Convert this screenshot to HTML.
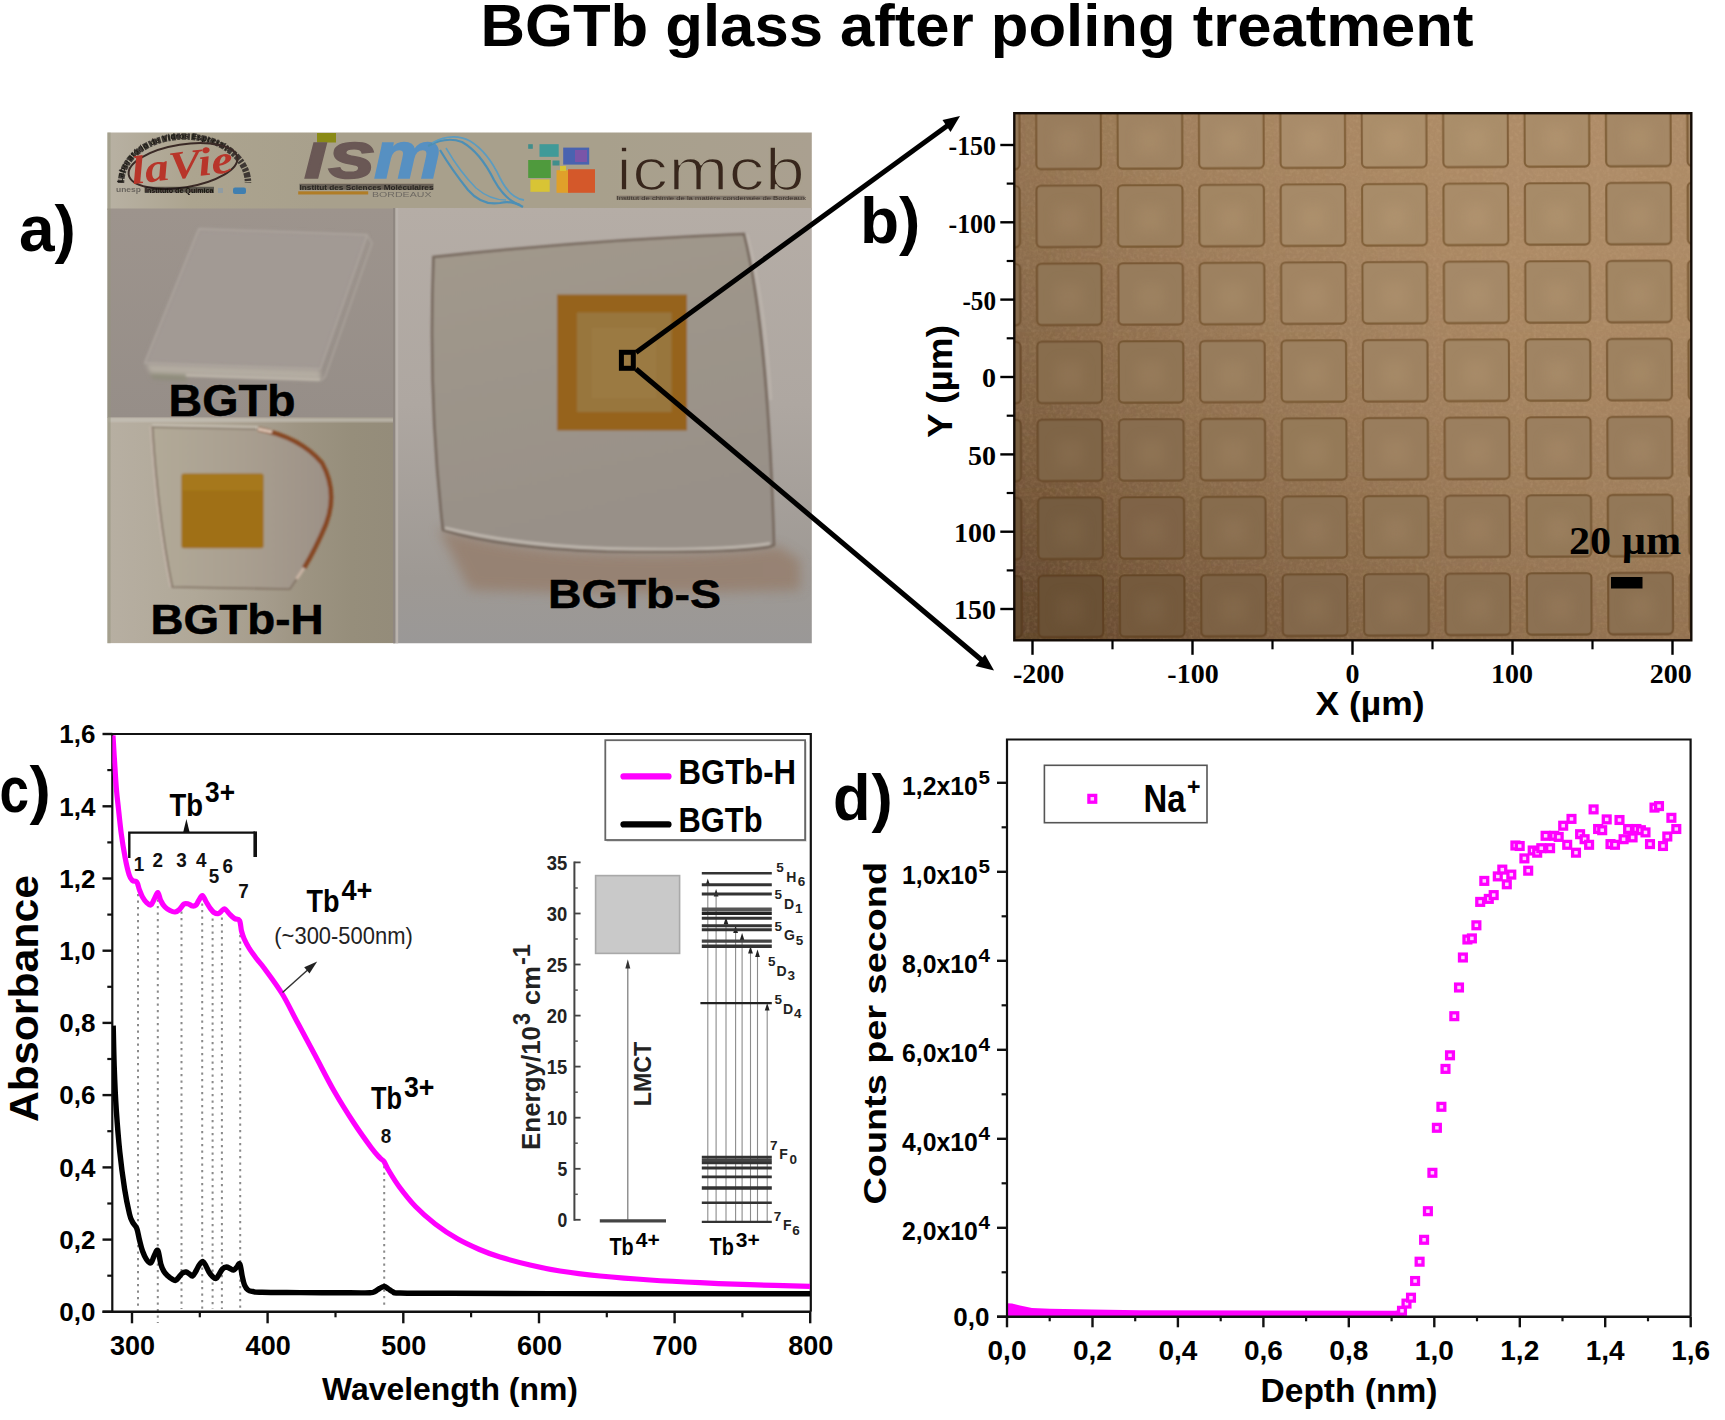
<!DOCTYPE html>
<html lang="en"><head><meta charset="utf-8"><title>BGTb glass after poling treatment</title>
<style>html,body{margin:0;padding:0;background:#fff}svg{display:block}text{white-space:pre}</style></head>
<body><svg width="1725" height="1420" viewBox="0 0 1725 1420">
<defs>
<filter id="b1" x="-5%" y="-5%" width="110%" height="110%"><feGaussianBlur stdDeviation="1"/></filter>
<filter id="b2" x="-5%" y="-5%" width="110%" height="110%"><feGaussianBlur stdDeviation="2"/></filter>
<filter id="b06" x="-5%" y="-5%" width="110%" height="110%"><feGaussianBlur stdDeviation="0.6"/></filter>
<filter id="b04" x="-5%" y="-5%" width="110%" height="110%"><feGaussianBlur stdDeviation="0.4"/></filter>
<filter id="b6" x="-20%" y="-20%" width="140%" height="140%"><feGaussianBlur stdDeviation="6"/></filter>
</defs>
<rect x="0" y="0" width="1725" height="1420" fill="#fff"/>
<text x="480.5" y="46" font-family='"Liberation Sans", "DejaVu Sans", sans-serif' font-size="60" font-weight="bold" fill="#000" text-anchor="start" textLength="993" lengthAdjust="spacingAndGlyphs" >BGTb glass after poling treatment</text>
<text x="19" y="250.6" font-family='"Liberation Sans", "DejaVu Sans", sans-serif' font-size="64" font-weight="bold" fill="#000" text-anchor="start" >a)</text>
<text x="860" y="242.6" font-family='"Liberation Sans", "DejaVu Sans", sans-serif' font-size="64" font-weight="bold" fill="#000" text-anchor="start" >b)</text>
<text x="-0.5" y="811.5" font-family='"Liberation Sans", "DejaVu Sans", sans-serif' font-size="64" font-weight="bold" fill="#000" text-anchor="start" textLength="29.5" lengthAdjust="spacingAndGlyphs" >c</text>
<text x="29.5" y="811.5" font-family='"Liberation Sans", "DejaVu Sans", sans-serif' font-size="64" font-weight="bold" fill="#000" text-anchor="start" >)</text>
<text x="833" y="819.5" font-family='"Liberation Sans", "DejaVu Sans", sans-serif' font-size="64" font-weight="bold" fill="#000" text-anchor="start" textLength="37.5" lengthAdjust="spacingAndGlyphs" >d</text>
<text x="871.5" y="819.5" font-family='"Liberation Sans", "DejaVu Sans", sans-serif' font-size="64" font-weight="bold" fill="#000" text-anchor="start" >)</text>
<g id="panelA">
<clipPath id="clipA"><rect x="107.4" y="132.6" width="704.4" height="510.6"/></clipPath>
<g clip-path="url(#clipA)">
<linearGradient id="gStrip" x1="0" x2="1" y1="0" y2="0"><stop offset="0" stop-color="#b8b1a3"/><stop offset="0.12" stop-color="#aca48f"/><stop offset="0.3" stop-color="#a8a08c"/><stop offset="0.7" stop-color="#a8a08c"/><stop offset="1" stop-color="#aaa090"/></linearGradient>
<rect x="107" y="132" width="705" height="78" fill="url(#gStrip)"/>
<linearGradient id="gLT" x1="0" x2="0" y1="0" y2="1"><stop offset="0" stop-color="#9d948d"/><stop offset="1" stop-color="#968e88"/></linearGradient>
<rect x="107" y="208.5" width="288" height="209.5" fill="url(#gLT)"/>
<linearGradient id="gLB" x1="0" x2="1" y1="0" y2="0"><stop offset="0" stop-color="#b7afa2"/><stop offset="0.3" stop-color="#b0a898"/><stop offset="0.55" stop-color="#a59c8c"/><stop offset="0.68" stop-color="#9d9482"/><stop offset="0.85" stop-color="#968e7b"/><stop offset="1" stop-color="#948c7a"/></linearGradient>
<rect x="107" y="417.5" width="288" height="226" fill="url(#gLB)"/>
<rect x="107" y="418" width="288" height="4" fill="#c8c3b9" opacity="0.7" filter="url(#b1)"/>
<linearGradient id="gR" x1="0" x2="0" y1="0" y2="1"><stop offset="0" stop-color="#b5ada6"/><stop offset="0.45" stop-color="#aea7a1"/><stop offset="0.85" stop-color="#9e9994"/><stop offset="1" stop-color="#9a9897"/></linearGradient>
<rect x="393.5" y="208" width="419" height="436" fill="url(#gR)"/>
<rect x="393" y="208" width="2.4" height="436" fill="#8f8781" filter="url(#b06)"/>
<rect x="395.6" y="208" width="2.6" height="436" fill="#bab3ad" filter="url(#b06)"/>
<rect x="107" y="132" width="3.6" height="512" fill="#96947f" opacity="0.55" filter="url(#b06)"/>
<g filter="url(#b2)">
<polygon points="199,229 367,235 320,369 145,363" fill="#a29a94"/>
<polygon points="146,364 320,370 321,380 151,374" fill="#b3aca1"/>
<polygon points="150,373 186,374.5 187,381 153,379" fill="#8e8c7a"/>
</g>
<g filter="url(#b1)">
<polygon points="199,229 367,235 320,369 145,363" fill="none" stroke="#aea69f" stroke-width="1.5"/>
<polyline points="367,235 372,243 325,377 321,380" fill="none" stroke="#a8a099" stroke-width="1.8"/>
<polyline points="186,375 320,379.5" fill="none" stroke="#bdb6aa" stroke-width="2.4"/>
</g>
<linearGradient id="gGH" gradientUnits="userSpaceOnUse" x1="152" x2="334" y1="0" y2="0"><stop offset="0" stop-color="#b2aa98"/><stop offset="0.5" stop-color="#a99f90"/><stop offset="1" stop-color="#9c9086"/></linearGradient>
<g filter="url(#b1)">
<path d="M152 426 L258 428 Q300 436 322 462 Q338 492 326 524 Q316 548 304 568 L290 589 L172 587 Q160 520 152 426 Z" fill="url(#gGH)"/>
<path d="M150.6 426 Q156.6 520 170.6 587" stroke="#c4b6aa" stroke-width="2" fill="none"/>
<path d="M152.4 426 Q158.4 520 172.4 587 L290 589 L304 568" stroke="#7f6f60" stroke-width="1.6" fill="none"/>
<path d="M152 427.2 L258 429.2" stroke="#8d8172" stroke-width="1.8" fill="none"/>
<path d="M152 425 L258 427" stroke="#cfc8bc" stroke-width="1.6" fill="none"/>
<rect x="181.4" y="473.6" width="82.2" height="74.6" rx="2.5" fill="#a07016"/>
<rect x="182.5" y="474.5" width="80" height="16" fill="#a87a1c" opacity="0.8"/>
<path d="M258 429 Q300 437 322 463 Q338 492 326 524 Q316 548 304 568" stroke="#864624" stroke-width="4.6" fill="none"/>
<path d="M258 429 L272 432" stroke="#dcc6b6" stroke-width="3" fill="none"/>
<path d="M296.5 579 L304 568" stroke="#c9b4a4" stroke-width="3" fill="none"/>
</g>
<linearGradient id="gGl" x1="0" x2="0.25" y1="0" y2="1"><stop offset="0" stop-color="#a2998c"/><stop offset="0.45" stop-color="#9d958a"/><stop offset="1" stop-color="#989088"/></linearGradient>
<path d="M438 528 Q520 552 607 553 Q720 556 778 546 L800 560 L800 590 Q620 596 470 590 Z" fill="#96806f" filter="url(#b6)" opacity="0.9"/>
<g filter="url(#b1)">
<path d="M433.5 257 Q590 240 744 234 Q768 330 774 545 Q760 553 607 551.5 Q500 548 443 530 Q428 400 433.5 257 Z" fill="url(#gGl)" stroke="#76685d" stroke-width="2.6"/>
<path d="M744 234 Q762 300 768 400" stroke="#c3bbb2" stroke-width="2" fill="none" opacity="0.7" transform="translate(3 0)"/>
<path d="M445 528 Q520 546 607 548.5 Q720 551 770 543.5" stroke="#c4bdb4" stroke-width="3" fill="none" opacity="0.8"/>
<rect x="557" y="294.5" width="130" height="136" fill="#96641f"/>
<rect x="577" y="312.5" width="94.5" height="99.5" fill="#98763e"/>
<rect x="592" y="328" width="64" height="70" fill="#9c7c46" opacity="0.7"/>
</g>
</g>
<text x="168.5" y="415.5" font-family='"Liberation Sans", "DejaVu Sans", sans-serif' font-size="44" font-weight="bold" fill="#000" text-anchor="start" textLength="127" lengthAdjust="spacingAndGlyphs" stroke="#000" stroke-width="0.5">BGTb</text>
<text x="150.5" y="634.3" font-family='"Liberation Sans", "DejaVu Sans", sans-serif' font-size="43" font-weight="bold" fill="#000" text-anchor="start" textLength="173" lengthAdjust="spacingAndGlyphs" stroke="#000" stroke-width="0.5">BGTb-H</text>
<text x="548" y="607.5" font-family='"Liberation Sans", "DejaVu Sans", sans-serif' font-size="41" font-weight="bold" fill="#000" text-anchor="start" textLength="173" lengthAdjust="spacingAndGlyphs" stroke="#000" stroke-width="0.5">BGTb-S</text>
<rect x="621.4" y="352.3" width="11.9" height="16" fill="none" stroke="#000" stroke-width="5"/>
<path d="M636 352.5 L949 124.5" stroke="#000" stroke-width="5" fill="none"/>
<polygon points="960,116 942.5,120 950.5,132" fill="#000"/>
<path d="M636 369 L984 662" stroke="#000" stroke-width="5" fill="none"/>
<polygon points="994,670.5 975.5,666 985,654.5" fill="#000"/>
</g>
<g id="logos" clip-path="url(#clipA)">
<g filter="url(#b06)">
<path id="arcLav" d="M122.5 184 A62 45.5 0 0 1 246.5 184" fill="none"/>
<path d="M121 183 A63.5 46.5 0 0 1 248 183" fill="none" stroke="#26221f" stroke-width="6.5" stroke-dasharray="3.2 1.3 5 1.2 2.4 1.4 4.2 1.1" opacity="0.82"/>
<text font-family='"Liberation Sans", "DejaVu Sans", sans-serif' font-size="8.2" font-weight="bold" fill="#1f1b18" letter-spacing="0.15"><textPath href="#arcLav" startOffset="1">Laboratório de Vidros Especiais</textPath></text>
<ellipse cx="183" cy="166" rx="55" ry="21.5" fill="none" stroke="#3a2a26" stroke-width="2" transform="rotate(-9 183 166)"/>
<text x="131" y="178" font-family='"Liberation Serif", "DejaVu Serif", serif' font-size="40" font-style="italic" font-weight="bold" fill="#b8352a" textLength="102" lengthAdjust="spacingAndGlyphs" transform="rotate(-7 183 166)">laVie</text>
<text x="116" y="192.3" font-family='"Liberation Sans", "DejaVu Sans", sans-serif' font-size="6.5" font-weight="bold" fill="#6b665f" text-anchor="start" textLength="25" lengthAdjust="spacingAndGlyphs" >unesp</text>
<text x="145" y="192.5" font-family='"Liberation Sans", "DejaVu Sans", sans-serif' font-size="7.4" font-weight="bold" fill="#15120f" text-anchor="start" textLength="68.5" lengthAdjust="spacingAndGlyphs" >Instituto de Química</text>
<rect x="144.5" y="186.8" width="69.5" height="5.8" fill="#1a1613" opacity="0.55"/>
<rect x="218" y="188" width="5" height="5" fill="#8a9aa8" opacity="0.8"/><rect x="233" y="187.5" width="13" height="6.5" rx="2" fill="#3f7fb0"/>
<rect x="317" y="133" width="19" height="9.5" fill="#8a8a18"/>
<text x="304" y="178.4" font-family='"Liberation Sans", "DejaVu Sans", sans-serif' font-size="67" font-style="italic" font-weight="bold" fill="#6a5855" stroke="#6a5855" stroke-width="1.6" textLength="72" lengthAdjust="spacingAndGlyphs">ıs</text>
<text x="374" y="178.4" font-family='"Liberation Sans", "DejaVu Sans", sans-serif' font-size="67" font-style="italic" font-weight="bold" fill="#5790c2" stroke="#5790c2" stroke-width="1.6" textLength="67" lengthAdjust="spacingAndGlyphs">m</text>
<text x="299.5" y="189.6" font-family='"Liberation Sans", "DejaVu Sans", sans-serif' font-size="7.6" font-weight="bold" fill="#2a2522" text-anchor="start" textLength="134" lengthAdjust="spacingAndGlyphs" >Institut des Sciences Moléculaires</text>
<rect x="299.5" y="183.8" width="134" height="6" fill="#2a2522" opacity="0.5"/>
<rect x="298.2" y="191.3" width="70" height="3.2" fill="#b07d28"/>
<text x="372" y="197" font-family='"Liberation Sans", "DejaVu Sans", sans-serif' font-size="6.8" font-weight="normal" fill="#6e6962" text-anchor="start" textLength="59.5" lengthAdjust="spacingAndGlyphs" >BORDEAUX</text>
<path d="M428 146 Q446 136 462 142 Q480 152 494 180 Q505 200 520 205" fill="none" stroke="#4d8fb5" stroke-width="2.2"/>
<path d="M432 143 Q452 132 470 141 Q488 152 500 178 Q510 198 524 200" fill="none" stroke="#5c9cc0" stroke-width="1.8"/>
<path d="M440 150 Q452 170 468 190 Q482 206 500 203 Q512 200 523 207" fill="none" stroke="#4d8fb5" stroke-width="2.2"/>
<path d="M446 148 Q460 172 476 188 Q490 200 506 200" fill="none" stroke="#5c9cc0" stroke-width="1.6"/>
<rect x="528.2" y="144.2" width="4.6" height="4.6" fill="#3f8e8c"/>
<rect x="539.5" y="144.2" width="19.2" height="12.6" fill="#3f9a98"/>
<rect x="563.2" y="147.6" width="26" height="17" fill="#4a63b0"/>
<rect x="575" y="150" width="12" height="12" fill="#7a55a8"/>
<rect x="528.2" y="160" width="22.6" height="18" fill="#4f9a3c"/>
<rect x="552.5" y="160.5" width="7" height="5" fill="#3f8e8c"/>
<rect x="530.4" y="179.4" width="19.3" height="12.4" fill="#d8c436"/>
<rect x="556.5" y="170.2" width="14" height="22.6" fill="#e0a02c"/>
<rect x="568" y="169.2" width="27" height="23.6" fill="#d4582a"/>
<rect x="560" y="166" width="6" height="5" fill="#d8c436"/>
<text x="616" y="189.6" font-family='"Liberation Sans", "DejaVu Sans", sans-serif' font-size="60" font-weight="normal" fill="#37281f" text-anchor="start" textLength="189" lengthAdjust="spacingAndGlyphs" stroke="#a9a08d" stroke-width="1.7">icmcb</text>
<text x="616.5" y="200.0" font-family='"Liberation Sans", "DejaVu Sans", sans-serif' font-size="5.6" font-weight="normal" fill="#3d332e" text-anchor="start" textLength="189.5" lengthAdjust="spacingAndGlyphs" >Institut de chimie de la matière condensée de Bordeaux</text>
<rect x="616.5" y="195.8" width="188" height="4" fill="#3d332e" opacity="0.38"/>
</g></g>
<g id="panelB">
<clipPath id="clipB"><rect x="1014.3" y="113.2" width="677.0" height="527.0999999999999"/></clipPath>
<filter id="noiseB" x="0" y="0" width="100%" height="100%"><feTurbulence type="fractalNoise" baseFrequency="0.3" numOctaves="2" seed="7" result="n"/><feColorMatrix in="n" type="matrix" values="0 0 0 0 0.82  0 0 0 0 0.58  0 0 0 0 0.36  0.9 0.9 0 0 -0.74"/></filter>
<filter id="b16" x="-10%" y="-10%" width="120%" height="120%"><feGaussianBlur stdDeviation="16"/></filter>
<g clip-path="url(#clipB)">
<rect x="1014.3" y="113.2" width="677.0" height="527.0999999999999" fill="#9c7c59"/>
<g filter="url(#b16)">
<rect x="962" y="61" width="53" height="53" fill="#937352"/>
<rect x="1014" y="61" width="53" height="53" fill="#967654"/>
<rect x="1066" y="61" width="53" height="53" fill="#9b7b58"/>
<rect x="1118" y="61" width="53" height="53" fill="#a07f5c"/>
<rect x="1170" y="61" width="53" height="53" fill="#a3825e"/>
<rect x="1222" y="61" width="53" height="53" fill="#a68561"/>
<rect x="1274" y="61" width="53" height="53" fill="#a88662"/>
<rect x="1326" y="61" width="53" height="53" fill="#a98863"/>
<rect x="1378" y="61" width="53" height="53" fill="#ac8a65"/>
<rect x="1430" y="61" width="53" height="53" fill="#ae8c67"/>
<rect x="1482" y="61" width="53" height="53" fill="#af8d68"/>
<rect x="1534" y="61" width="53" height="53" fill="#af8d68"/>
<rect x="1586" y="61" width="53" height="53" fill="#af8c67"/>
<rect x="1638" y="61" width="53" height="53" fill="#ad8b67"/>
<rect x="1690" y="61" width="53" height="53" fill="#ad8b66"/>
<rect x="1742" y="61" width="53" height="53" fill="#ad8b66"/>
<rect x="962" y="113" width="53" height="53" fill="#927251"/>
<rect x="1014" y="113" width="53" height="53" fill="#957553"/>
<rect x="1066" y="113" width="53" height="53" fill="#9a7a57"/>
<rect x="1118" y="113" width="53" height="53" fill="#9f7e5b"/>
<rect x="1170" y="113" width="53" height="53" fill="#a2815e"/>
<rect x="1222" y="113" width="53" height="53" fill="#a58460"/>
<rect x="1274" y="113" width="53" height="53" fill="#a78662"/>
<rect x="1326" y="113" width="53" height="53" fill="#a98763"/>
<rect x="1378" y="113" width="53" height="53" fill="#ab8a65"/>
<rect x="1430" y="113" width="53" height="53" fill="#ad8b66"/>
<rect x="1482" y="113" width="53" height="53" fill="#ae8c67"/>
<rect x="1534" y="113" width="53" height="53" fill="#af8d68"/>
<rect x="1586" y="113" width="53" height="53" fill="#af8c67"/>
<rect x="1638" y="113" width="53" height="53" fill="#ad8b67"/>
<rect x="1690" y="113" width="53" height="53" fill="#ad8b66"/>
<rect x="1742" y="113" width="53" height="53" fill="#ad8b66"/>
<rect x="962" y="165" width="53" height="53" fill="#8f6f4f"/>
<rect x="1014" y="165" width="53" height="53" fill="#927251"/>
<rect x="1066" y="165" width="53" height="53" fill="#977755"/>
<rect x="1118" y="165" width="53" height="53" fill="#9c7b59"/>
<rect x="1170" y="165" width="53" height="53" fill="#a07f5c"/>
<rect x="1222" y="165" width="53" height="53" fill="#a3825e"/>
<rect x="1274" y="165" width="53" height="53" fill="#a58460"/>
<rect x="1326" y="165" width="53" height="53" fill="#a78662"/>
<rect x="1378" y="165" width="53" height="53" fill="#aa8864"/>
<rect x="1430" y="165" width="53" height="53" fill="#ac8a65"/>
<rect x="1482" y="165" width="53" height="53" fill="#ad8b67"/>
<rect x="1534" y="165" width="53" height="53" fill="#ae8c67"/>
<rect x="1586" y="165" width="53" height="53" fill="#ae8c67"/>
<rect x="1638" y="165" width="53" height="53" fill="#ad8b66"/>
<rect x="1690" y="165" width="53" height="53" fill="#ac8a66"/>
<rect x="1742" y="165" width="53" height="53" fill="#ac8a66"/>
<rect x="962" y="217" width="53" height="53" fill="#8b6c4c"/>
<rect x="1014" y="217" width="53" height="53" fill="#8e6f4e"/>
<rect x="1066" y="217" width="53" height="53" fill="#947453"/>
<rect x="1118" y="217" width="53" height="53" fill="#997856"/>
<rect x="1170" y="217" width="53" height="53" fill="#9d7c5a"/>
<rect x="1222" y="217" width="53" height="53" fill="#a07f5c"/>
<rect x="1274" y="217" width="53" height="53" fill="#a3825e"/>
<rect x="1326" y="217" width="53" height="53" fill="#a58460"/>
<rect x="1378" y="217" width="53" height="53" fill="#a88662"/>
<rect x="1430" y="217" width="53" height="53" fill="#aa8864"/>
<rect x="1482" y="217" width="53" height="53" fill="#ac8a65"/>
<rect x="1534" y="217" width="53" height="53" fill="#ad8b66"/>
<rect x="1586" y="217" width="53" height="53" fill="#ad8b66"/>
<rect x="1638" y="217" width="53" height="53" fill="#ac8a66"/>
<rect x="1690" y="217" width="53" height="53" fill="#ac8a65"/>
<rect x="1742" y="217" width="53" height="53" fill="#ac8a65"/>
<rect x="962" y="269" width="53" height="53" fill="#876848"/>
<rect x="1014" y="269" width="53" height="53" fill="#8a6b4b"/>
<rect x="1066" y="269" width="53" height="53" fill="#90704f"/>
<rect x="1118" y="269" width="53" height="53" fill="#957553"/>
<rect x="1170" y="269" width="53" height="53" fill="#997957"/>
<rect x="1222" y="269" width="53" height="53" fill="#9d7c5a"/>
<rect x="1274" y="269" width="53" height="53" fill="#a07f5c"/>
<rect x="1326" y="269" width="53" height="53" fill="#a2815e"/>
<rect x="1378" y="269" width="53" height="53" fill="#a58460"/>
<rect x="1430" y="269" width="53" height="53" fill="#a88662"/>
<rect x="1482" y="269" width="53" height="53" fill="#aa8864"/>
<rect x="1534" y="269" width="53" height="53" fill="#ab8964"/>
<rect x="1586" y="269" width="53" height="53" fill="#ab8965"/>
<rect x="1638" y="269" width="53" height="53" fill="#ab8964"/>
<rect x="1690" y="269" width="53" height="53" fill="#aa8864"/>
<rect x="1742" y="269" width="53" height="53" fill="#aa8864"/>
<rect x="962" y="321" width="53" height="53" fill="#826445"/>
<rect x="1014" y="321" width="53" height="53" fill="#866747"/>
<rect x="1066" y="321" width="53" height="53" fill="#8c6c4c"/>
<rect x="1118" y="321" width="53" height="53" fill="#917150"/>
<rect x="1170" y="321" width="53" height="53" fill="#957554"/>
<rect x="1222" y="321" width="53" height="53" fill="#997957"/>
<rect x="1274" y="321" width="53" height="53" fill="#9c7c59"/>
<rect x="1326" y="321" width="53" height="53" fill="#9f7e5b"/>
<rect x="1378" y="321" width="53" height="53" fill="#a2815e"/>
<rect x="1430" y="321" width="53" height="53" fill="#a58360"/>
<rect x="1482" y="321" width="53" height="53" fill="#a78561"/>
<rect x="1534" y="321" width="53" height="53" fill="#a88762"/>
<rect x="1586" y="321" width="53" height="53" fill="#a98763"/>
<rect x="1638" y="321" width="53" height="53" fill="#a88763"/>
<rect x="1690" y="321" width="53" height="53" fill="#a88662"/>
<rect x="1742" y="321" width="53" height="53" fill="#a88662"/>
<rect x="962" y="373" width="53" height="53" fill="#7d5f40"/>
<rect x="1014" y="373" width="53" height="53" fill="#806243"/>
<rect x="1066" y="373" width="53" height="53" fill="#866748"/>
<rect x="1118" y="373" width="53" height="53" fill="#8c6d4c"/>
<rect x="1170" y="373" width="53" height="53" fill="#917150"/>
<rect x="1222" y="373" width="53" height="53" fill="#957553"/>
<rect x="1274" y="373" width="53" height="53" fill="#987856"/>
<rect x="1326" y="373" width="53" height="53" fill="#9b7a58"/>
<rect x="1378" y="373" width="53" height="53" fill="#9e7d5b"/>
<rect x="1430" y="373" width="53" height="53" fill="#a1805d"/>
<rect x="1482" y="373" width="53" height="53" fill="#a3825f"/>
<rect x="1534" y="373" width="53" height="53" fill="#a58460"/>
<rect x="1586" y="373" width="53" height="53" fill="#a68460"/>
<rect x="1638" y="373" width="53" height="53" fill="#a68460"/>
<rect x="1690" y="373" width="53" height="53" fill="#a58460"/>
<rect x="1742" y="373" width="53" height="53" fill="#a58460"/>
<rect x="962" y="425" width="53" height="53" fill="#77593c"/>
<rect x="1014" y="425" width="53" height="53" fill="#7a5c3e"/>
<rect x="1066" y="425" width="53" height="53" fill="#816243"/>
<rect x="1118" y="425" width="53" height="53" fill="#866748"/>
<rect x="1170" y="425" width="53" height="53" fill="#8b6c4c"/>
<rect x="1222" y="425" width="53" height="53" fill="#90704f"/>
<rect x="1274" y="425" width="53" height="53" fill="#937352"/>
<rect x="1326" y="425" width="53" height="53" fill="#967654"/>
<rect x="1378" y="425" width="53" height="53" fill="#9a7957"/>
<rect x="1430" y="425" width="53" height="53" fill="#9d7c5a"/>
<rect x="1482" y="425" width="53" height="53" fill="#9f7f5c"/>
<rect x="1534" y="425" width="53" height="53" fill="#a1805d"/>
<rect x="1586" y="425" width="53" height="53" fill="#a2815e"/>
<rect x="1638" y="425" width="53" height="53" fill="#a2815e"/>
<rect x="1690" y="425" width="53" height="53" fill="#a2815e"/>
<rect x="1742" y="425" width="53" height="53" fill="#a2815e"/>
<rect x="962" y="477" width="53" height="53" fill="#705336"/>
<rect x="1014" y="477" width="53" height="53" fill="#745639"/>
<rect x="1066" y="477" width="53" height="53" fill="#7a5c3e"/>
<rect x="1118" y="477" width="53" height="53" fill="#806243"/>
<rect x="1170" y="477" width="53" height="53" fill="#856747"/>
<rect x="1222" y="477" width="53" height="53" fill="#8a6b4b"/>
<rect x="1274" y="477" width="53" height="53" fill="#8e6e4e"/>
<rect x="1326" y="477" width="53" height="53" fill="#917150"/>
<rect x="1378" y="477" width="53" height="53" fill="#957553"/>
<rect x="1430" y="477" width="53" height="53" fill="#987856"/>
<rect x="1482" y="477" width="53" height="53" fill="#9b7a58"/>
<rect x="1534" y="477" width="53" height="53" fill="#9d7c59"/>
<rect x="1586" y="477" width="53" height="53" fill="#9e7d5a"/>
<rect x="1638" y="477" width="53" height="53" fill="#9e7e5b"/>
<rect x="1690" y="477" width="53" height="53" fill="#9e7e5b"/>
<rect x="1742" y="477" width="53" height="53" fill="#9e7e5b"/>
<rect x="962" y="529" width="53" height="53" fill="#694c31"/>
<rect x="1014" y="529" width="53" height="53" fill="#6c5034"/>
<rect x="1066" y="529" width="53" height="53" fill="#735639"/>
<rect x="1118" y="529" width="53" height="53" fill="#7a5c3e"/>
<rect x="1170" y="529" width="53" height="53" fill="#7f6142"/>
<rect x="1222" y="529" width="53" height="53" fill="#846546"/>
<rect x="1274" y="529" width="53" height="53" fill="#886949"/>
<rect x="1326" y="529" width="53" height="53" fill="#8b6c4b"/>
<rect x="1378" y="529" width="53" height="53" fill="#8f704f"/>
<rect x="1430" y="529" width="53" height="53" fill="#937352"/>
<rect x="1482" y="529" width="53" height="53" fill="#967654"/>
<rect x="1534" y="529" width="53" height="53" fill="#987756"/>
<rect x="1586" y="529" width="53" height="53" fill="#997957"/>
<rect x="1638" y="529" width="53" height="53" fill="#9a7957"/>
<rect x="1690" y="529" width="53" height="53" fill="#9a7957"/>
<rect x="1742" y="529" width="53" height="53" fill="#9a7957"/>
<rect x="962" y="581" width="53" height="53" fill="#61452a"/>
<rect x="1014" y="581" width="53" height="53" fill="#65492d"/>
<rect x="1066" y="581" width="53" height="53" fill="#6c4f33"/>
<rect x="1118" y="581" width="53" height="53" fill="#725538"/>
<rect x="1170" y="581" width="53" height="53" fill="#785a3c"/>
<rect x="1222" y="581" width="53" height="53" fill="#7d5f40"/>
<rect x="1274" y="581" width="53" height="53" fill="#816244"/>
<rect x="1326" y="581" width="53" height="53" fill="#846646"/>
<rect x="1378" y="581" width="53" height="53" fill="#896a4a"/>
<rect x="1430" y="581" width="53" height="53" fill="#8d6d4d"/>
<rect x="1482" y="581" width="53" height="53" fill="#90704f"/>
<rect x="1534" y="581" width="53" height="53" fill="#927251"/>
<rect x="1586" y="581" width="53" height="53" fill="#947452"/>
<rect x="1638" y="581" width="53" height="53" fill="#957553"/>
<rect x="1690" y="581" width="53" height="53" fill="#957553"/>
<rect x="1742" y="581" width="53" height="53" fill="#957553"/>
<rect x="962" y="633" width="53" height="53" fill="#5c4026"/>
<rect x="1014" y="633" width="53" height="53" fill="#5f4429"/>
<rect x="1066" y="633" width="53" height="53" fill="#674a2f"/>
<rect x="1118" y="633" width="53" height="53" fill="#6d5034"/>
<rect x="1170" y="633" width="53" height="53" fill="#735639"/>
<rect x="1222" y="633" width="53" height="53" fill="#785a3d"/>
<rect x="1274" y="633" width="53" height="53" fill="#7c5e40"/>
<rect x="1326" y="633" width="53" height="53" fill="#806243"/>
<rect x="1378" y="633" width="53" height="53" fill="#856647"/>
<rect x="1430" y="633" width="53" height="53" fill="#896a4a"/>
<rect x="1482" y="633" width="53" height="53" fill="#8c6d4c"/>
<rect x="1534" y="633" width="53" height="53" fill="#8e6f4e"/>
<rect x="1586" y="633" width="53" height="53" fill="#907050"/>
<rect x="1638" y="633" width="53" height="53" fill="#917150"/>
<rect x="1690" y="633" width="53" height="53" fill="#917251"/>
<rect x="1742" y="633" width="53" height="53" fill="#917251"/>
<rect x="962" y="685" width="53" height="53" fill="#5c4026"/>
<rect x="1014" y="685" width="53" height="53" fill="#5f4429"/>
<rect x="1066" y="685" width="53" height="53" fill="#674a2f"/>
<rect x="1118" y="685" width="53" height="53" fill="#6d5034"/>
<rect x="1170" y="685" width="53" height="53" fill="#735639"/>
<rect x="1222" y="685" width="53" height="53" fill="#785a3d"/>
<rect x="1274" y="685" width="53" height="53" fill="#7c5e40"/>
<rect x="1326" y="685" width="53" height="53" fill="#806243"/>
<rect x="1378" y="685" width="53" height="53" fill="#856647"/>
<rect x="1430" y="685" width="53" height="53" fill="#896a4a"/>
<rect x="1482" y="685" width="53" height="53" fill="#8c6d4c"/>
<rect x="1534" y="685" width="53" height="53" fill="#8e6f4e"/>
<rect x="1586" y="685" width="53" height="53" fill="#907050"/>
<rect x="1638" y="685" width="53" height="53" fill="#917150"/>
<rect x="1690" y="685" width="53" height="53" fill="#917251"/>
<rect x="1742" y="685" width="53" height="53" fill="#917251"/>
</g>
<rect x="1014.3" y="113.2" width="677.0" height="527.0999999999999" filter="url(#noiseB)" opacity="0.2"/>
<g transform="rotate(-0.28 1352 377)" filter="url(#b06)">
<rect x="956.0" y="106.2" width="64.6" height="61.4" rx="4.5" ry="4.5" fill="#937858" stroke="#775733" stroke-width="2.1"/>
<rect x="956.0" y="184.2" width="64.6" height="61.4" rx="4.5" ry="4.5" fill="#8e7354" stroke="#745532" stroke-width="2.1"/>
<rect x="956.0" y="262.2" width="64.6" height="61.4" rx="4.5" ry="4.5" fill="#886d4f" stroke="#715230" stroke-width="2.1"/>
<rect x="956.0" y="340.2" width="64.6" height="61.4" rx="4.5" ry="4.5" fill="#816649" stroke="#6d4e2d" stroke-width="2.1"/>
<rect x="956.0" y="418.2" width="64.6" height="61.4" rx="4.5" ry="4.5" fill="#785e41" stroke="#67492a" stroke-width="2.1"/>
<rect x="956.0" y="496.2" width="64.6" height="61.4" rx="4.5" ry="4.5" fill="#6e5439" stroke="#614325" stroke-width="2.1"/>
<rect x="956.0" y="574.2" width="64.6" height="61.4" rx="4.5" ry="4.5" fill="#62492f" stroke="#593c20" stroke-width="2.1"/>
<rect x="956.0" y="652.2" width="64.6" height="61.4" rx="4.5" ry="4.5" fill="#5d442b" stroke="#55391d" stroke-width="2.1"/>
<rect x="1037.4" y="106.2" width="64.6" height="61.4" rx="4.5" ry="4.5" fill="#997d5d" stroke="#7a5a35" stroke-width="2.1"/>
<rect x="1037.4" y="184.2" width="64.6" height="61.4" rx="4.5" ry="4.5" fill="#957959" stroke="#785834" stroke-width="2.1"/>
<rect x="1037.4" y="262.2" width="64.6" height="61.4" rx="4.5" ry="4.5" fill="#8f7454" stroke="#755532" stroke-width="2.1"/>
<rect x="1037.4" y="340.2" width="64.6" height="61.4" rx="4.5" ry="4.5" fill="#886d4e" stroke="#715230" stroke-width="2.1"/>
<rect x="1037.4" y="418.2" width="64.6" height="61.4" rx="4.5" ry="4.5" fill="#7f6547" stroke="#6c4d2d" stroke-width="2.1"/>
<rect x="1037.4" y="496.2" width="64.6" height="61.4" rx="4.5" ry="4.5" fill="#755b3f" stroke="#664829" stroke-width="2.1"/>
<rect x="1037.4" y="574.2" width="64.6" height="61.4" rx="4.5" ry="4.5" fill="#6a5136" stroke="#5e4124" stroke-width="2.1"/>
<rect x="1037.4" y="652.2" width="64.6" height="61.4" rx="4.5" ry="4.5" fill="#654b31" stroke="#5b3e21" stroke-width="2.1"/>
<rect x="1118.8" y="106.2" width="64.6" height="61.4" rx="4.5" ry="4.5" fill="#a08463" stroke="#7d5d37" stroke-width="2.1"/>
<rect x="1118.8" y="184.2" width="64.6" height="61.4" rx="4.5" ry="4.5" fill="#9c805f" stroke="#7b5b36" stroke-width="2.1"/>
<rect x="1118.8" y="262.2" width="64.6" height="61.4" rx="4.5" ry="4.5" fill="#977b5b" stroke="#795935" stroke-width="2.1"/>
<rect x="1118.8" y="340.2" width="64.6" height="61.4" rx="4.5" ry="4.5" fill="#907555" stroke="#755633" stroke-width="2.1"/>
<rect x="1118.8" y="418.2" width="64.6" height="61.4" rx="4.5" ry="4.5" fill="#886d4f" stroke="#715230" stroke-width="2.1"/>
<rect x="1118.8" y="496.2" width="64.6" height="61.4" rx="4.5" ry="4.5" fill="#7f6447" stroke="#6c4d2c" stroke-width="2.1"/>
<rect x="1118.8" y="574.2" width="64.6" height="61.4" rx="4.5" ry="4.5" fill="#745a3e" stroke="#654728" stroke-width="2.1"/>
<rect x="1118.8" y="652.2" width="64.6" height="61.4" rx="4.5" ry="4.5" fill="#6f553a" stroke="#624426" stroke-width="2.1"/>
<rect x="1200.2" y="106.2" width="64.6" height="61.4" rx="4.5" ry="4.5" fill="#a58967" stroke="#805f39" stroke-width="2.1"/>
<rect x="1200.2" y="184.2" width="64.6" height="61.4" rx="4.5" ry="4.5" fill="#a28664" stroke="#7e5d38" stroke-width="2.1"/>
<rect x="1200.2" y="262.2" width="64.6" height="61.4" rx="4.5" ry="4.5" fill="#9d8160" stroke="#7c5b36" stroke-width="2.1"/>
<rect x="1200.2" y="340.2" width="64.6" height="61.4" rx="4.5" ry="4.5" fill="#977b5b" stroke="#795935" stroke-width="2.1"/>
<rect x="1200.2" y="418.2" width="64.6" height="61.4" rx="4.5" ry="4.5" fill="#907455" stroke="#755532" stroke-width="2.1"/>
<rect x="1200.2" y="496.2" width="64.6" height="61.4" rx="4.5" ry="4.5" fill="#876c4e" stroke="#70512f" stroke-width="2.1"/>
<rect x="1200.2" y="574.2" width="64.6" height="61.4" rx="4.5" ry="4.5" fill="#7d6245" stroke="#6a4c2c" stroke-width="2.1"/>
<rect x="1200.2" y="652.2" width="64.6" height="61.4" rx="4.5" ry="4.5" fill="#785d41" stroke="#67492a" stroke-width="2.1"/>
<rect x="1281.6" y="106.2" width="64.6" height="61.4" rx="4.5" ry="4.5" fill="#a98c6a" stroke="#816039" stroke-width="2.1"/>
<rect x="1281.6" y="184.2" width="64.6" height="61.4" rx="4.5" ry="4.5" fill="#a68a67" stroke="#805f39" stroke-width="2.1"/>
<rect x="1281.6" y="262.2" width="64.6" height="61.4" rx="4.5" ry="4.5" fill="#a28564" stroke="#7e5d38" stroke-width="2.1"/>
<rect x="1281.6" y="340.2" width="64.6" height="61.4" rx="4.5" ry="4.5" fill="#9c805f" stroke="#7b5b36" stroke-width="2.1"/>
<rect x="1281.6" y="418.2" width="64.6" height="61.4" rx="4.5" ry="4.5" fill="#957a59" stroke="#785834" stroke-width="2.1"/>
<rect x="1281.6" y="496.2" width="64.6" height="61.4" rx="4.5" ry="4.5" fill="#8d7253" stroke="#745431" stroke-width="2.1"/>
<rect x="1281.6" y="574.2" width="64.6" height="61.4" rx="4.5" ry="4.5" fill="#83684b" stroke="#6e4f2e" stroke-width="2.1"/>
<rect x="1281.6" y="652.2" width="64.6" height="61.4" rx="4.5" ry="4.5" fill="#7e6447" stroke="#6b4d2c" stroke-width="2.1"/>
<rect x="1363.0" y="106.2" width="64.6" height="61.4" rx="4.5" ry="4.5" fill="#ab8e6b" stroke="#82613a" stroke-width="2.1"/>
<rect x="1363.0" y="184.2" width="64.6" height="61.4" rx="4.5" ry="4.5" fill="#a88c69" stroke="#816039" stroke-width="2.1"/>
<rect x="1363.0" y="262.2" width="64.6" height="61.4" rx="4.5" ry="4.5" fill="#a48866" stroke="#7f5e38" stroke-width="2.1"/>
<rect x="1363.0" y="340.2" width="64.6" height="61.4" rx="4.5" ry="4.5" fill="#9f8362" stroke="#7d5c37" stroke-width="2.1"/>
<rect x="1363.0" y="418.2" width="64.6" height="61.4" rx="4.5" ry="4.5" fill="#997d5d" stroke="#7a5a35" stroke-width="2.1"/>
<rect x="1363.0" y="496.2" width="64.6" height="61.4" rx="4.5" ry="4.5" fill="#917656" stroke="#765633" stroke-width="2.1"/>
<rect x="1363.0" y="574.2" width="64.6" height="61.4" rx="4.5" ry="4.5" fill="#886d4f" stroke="#715230" stroke-width="2.1"/>
<rect x="1363.0" y="652.2" width="64.6" height="61.4" rx="4.5" ry="4.5" fill="#83694b" stroke="#6e4f2e" stroke-width="2.1"/>
<rect x="1444.4" y="106.2" width="64.6" height="61.4" rx="4.5" ry="4.5" fill="#aa8e6b" stroke="#82613a" stroke-width="2.1"/>
<rect x="1444.4" y="184.2" width="64.6" height="61.4" rx="4.5" ry="4.5" fill="#a98c69" stroke="#816039" stroke-width="2.1"/>
<rect x="1444.4" y="262.2" width="64.6" height="61.4" rx="4.5" ry="4.5" fill="#a58967" stroke="#805f39" stroke-width="2.1"/>
<rect x="1444.4" y="340.2" width="64.6" height="61.4" rx="4.5" ry="4.5" fill="#a18563" stroke="#7e5d37" stroke-width="2.1"/>
<rect x="1444.4" y="418.2" width="64.6" height="61.4" rx="4.5" ry="4.5" fill="#9b7f5e" stroke="#7b5a36" stroke-width="2.1"/>
<rect x="1444.4" y="496.2" width="64.6" height="61.4" rx="4.5" ry="4.5" fill="#947858" stroke="#775734" stroke-width="2.1"/>
<rect x="1444.4" y="574.2" width="64.6" height="61.4" rx="4.5" ry="4.5" fill="#8b7051" stroke="#735331" stroke-width="2.1"/>
<rect x="1444.4" y="652.2" width="64.6" height="61.4" rx="4.5" ry="4.5" fill="#876c4d" stroke="#70512f" stroke-width="2.1"/>
<rect x="1525.8" y="106.2" width="64.6" height="61.4" rx="4.5" ry="4.5" fill="#a98c69" stroke="#816039" stroke-width="2.1"/>
<rect x="1525.8" y="184.2" width="64.6" height="61.4" rx="4.5" ry="4.5" fill="#a78b68" stroke="#805f39" stroke-width="2.1"/>
<rect x="1525.8" y="262.2" width="64.6" height="61.4" rx="4.5" ry="4.5" fill="#a48866" stroke="#7f5e38" stroke-width="2.1"/>
<rect x="1525.8" y="340.2" width="64.6" height="61.4" rx="4.5" ry="4.5" fill="#a08463" stroke="#7d5d37" stroke-width="2.1"/>
<rect x="1525.8" y="418.2" width="64.6" height="61.4" rx="4.5" ry="4.5" fill="#9b7f5e" stroke="#7b5a36" stroke-width="2.1"/>
<rect x="1525.8" y="496.2" width="64.6" height="61.4" rx="4.5" ry="4.5" fill="#947959" stroke="#775834" stroke-width="2.1"/>
<rect x="1525.8" y="574.2" width="64.6" height="61.4" rx="4.5" ry="4.5" fill="#8c7152" stroke="#735431" stroke-width="2.1"/>
<rect x="1525.8" y="652.2" width="64.6" height="61.4" rx="4.5" ry="4.5" fill="#886d4f" stroke="#715230" stroke-width="2.1"/>
<rect x="1607.2" y="106.2" width="64.6" height="61.4" rx="4.5" ry="4.5" fill="#a58866" stroke="#7f5f38" stroke-width="2.1"/>
<rect x="1607.2" y="184.2" width="64.6" height="61.4" rx="4.5" ry="4.5" fill="#a48866" stroke="#7f5e38" stroke-width="2.1"/>
<rect x="1607.2" y="262.2" width="64.6" height="61.4" rx="4.5" ry="4.5" fill="#a28664" stroke="#7e5d38" stroke-width="2.1"/>
<rect x="1607.2" y="340.2" width="64.6" height="61.4" rx="4.5" ry="4.5" fill="#9e8261" stroke="#7c5c37" stroke-width="2.1"/>
<rect x="1607.2" y="418.2" width="64.6" height="61.4" rx="4.5" ry="4.5" fill="#997d5d" stroke="#7a5a35" stroke-width="2.1"/>
<rect x="1607.2" y="496.2" width="64.6" height="61.4" rx="4.5" ry="4.5" fill="#937858" stroke="#775733" stroke-width="2.1"/>
<rect x="1607.2" y="574.2" width="64.6" height="61.4" rx="4.5" ry="4.5" fill="#8b7051" stroke="#735331" stroke-width="2.1"/>
<rect x="1607.2" y="652.2" width="64.6" height="61.4" rx="4.5" ry="4.5" fill="#886d4e" stroke="#715130" stroke-width="2.1"/>
<rect x="1688.6" y="106.2" width="64.6" height="61.4" rx="4.5" ry="4.5" fill="#a28564" stroke="#7e5d38" stroke-width="2.1"/>
<rect x="1688.6" y="184.2" width="64.6" height="61.4" rx="4.5" ry="4.5" fill="#a18563" stroke="#7e5d37" stroke-width="2.1"/>
<rect x="1688.6" y="262.2" width="64.6" height="61.4" rx="4.5" ry="4.5" fill="#9f8362" stroke="#7d5c37" stroke-width="2.1"/>
<rect x="1688.6" y="340.2" width="64.6" height="61.4" rx="4.5" ry="4.5" fill="#9c805f" stroke="#7b5b36" stroke-width="2.1"/>
<rect x="1688.6" y="418.2" width="64.6" height="61.4" rx="4.5" ry="4.5" fill="#977c5b" stroke="#795935" stroke-width="2.1"/>
<rect x="1688.6" y="496.2" width="64.6" height="61.4" rx="4.5" ry="4.5" fill="#917656" stroke="#765633" stroke-width="2.1"/>
<rect x="1688.6" y="574.2" width="64.6" height="61.4" rx="4.5" ry="4.5" fill="#8a6f50" stroke="#725330" stroke-width="2.1"/>
<rect x="1688.6" y="652.2" width="64.6" height="61.4" rx="4.5" ry="4.5" fill="#866b4d" stroke="#70512f" stroke-width="2.1"/>
</g>
<g transform="rotate(-0.28 1352 377)" filter="url(#b6)" opacity="0.5">
<rect x="975.0" y="126.2" width="26.599999999999994" height="27.4" fill="#9f8362"/>
<rect x="975.0" y="204.2" width="26.599999999999994" height="27.4" fill="#9a7f5e"/>
<rect x="975.0" y="282.2" width="26.599999999999994" height="27.4" fill="#947959"/>
<rect x="975.0" y="360.2" width="26.599999999999994" height="27.4" fill="#8d7253"/>
<rect x="975.0" y="438.2" width="26.599999999999994" height="27.4" fill="#84694b"/>
<rect x="975.0" y="516.2" width="26.599999999999994" height="27.4" fill="#7a6043"/>
<rect x="975.0" y="594.2" width="26.599999999999994" height="27.4" fill="#6e5539"/>
<rect x="975.0" y="672.2" width="26.599999999999994" height="27.4" fill="#694f35"/>
<rect x="1056.4" y="126.2" width="26.599999999999994" height="27.4" fill="#a58967"/>
<rect x="1056.4" y="204.2" width="26.599999999999994" height="27.4" fill="#a18463"/>
<rect x="1056.4" y="282.2" width="26.599999999999994" height="27.4" fill="#9b7f5e"/>
<rect x="1056.4" y="360.2" width="26.599999999999994" height="27.4" fill="#947858"/>
<rect x="1056.4" y="438.2" width="26.599999999999994" height="27.4" fill="#8b7051"/>
<rect x="1056.4" y="516.2" width="26.599999999999994" height="27.4" fill="#816749"/>
<rect x="1056.4" y="594.2" width="26.599999999999994" height="27.4" fill="#765c40"/>
<rect x="1056.4" y="672.2" width="26.599999999999994" height="27.4" fill="#71573b"/>
<rect x="1137.8" y="126.2" width="26.599999999999994" height="27.4" fill="#ac8f6c"/>
<rect x="1137.8" y="204.2" width="26.599999999999994" height="27.4" fill="#a88c69"/>
<rect x="1137.8" y="282.2" width="26.599999999999994" height="27.4" fill="#a38765"/>
<rect x="1137.8" y="360.2" width="26.599999999999994" height="27.4" fill="#9c805f"/>
<rect x="1137.8" y="438.2" width="26.599999999999994" height="27.4" fill="#947959"/>
<rect x="1137.8" y="516.2" width="26.599999999999994" height="27.4" fill="#8b7051"/>
<rect x="1137.8" y="594.2" width="26.599999999999994" height="27.4" fill="#806648"/>
<rect x="1137.8" y="672.2" width="26.599999999999994" height="27.4" fill="#7b6144"/>
<rect x="1219.2" y="126.2" width="26.599999999999994" height="27.4" fill="#b19471"/>
<rect x="1219.2" y="204.2" width="26.599999999999994" height="27.4" fill="#ae916e"/>
<rect x="1219.2" y="282.2" width="26.599999999999994" height="27.4" fill="#a98d6a"/>
<rect x="1219.2" y="360.2" width="26.599999999999994" height="27.4" fill="#a38765"/>
<rect x="1219.2" y="438.2" width="26.599999999999994" height="27.4" fill="#9c805f"/>
<rect x="1219.2" y="516.2" width="26.599999999999994" height="27.4" fill="#937758"/>
<rect x="1219.2" y="594.2" width="26.599999999999994" height="27.4" fill="#896e4f"/>
<rect x="1219.2" y="672.2" width="26.599999999999994" height="27.4" fill="#84694b"/>
<rect x="1300.6" y="126.2" width="26.599999999999994" height="27.4" fill="#b59874"/>
<rect x="1300.6" y="204.2" width="26.599999999999994" height="27.4" fill="#b29571"/>
<rect x="1300.6" y="282.2" width="26.599999999999994" height="27.4" fill="#ae916e"/>
<rect x="1300.6" y="360.2" width="26.599999999999994" height="27.4" fill="#a88c69"/>
<rect x="1300.6" y="438.2" width="26.599999999999994" height="27.4" fill="#a18563"/>
<rect x="1300.6" y="516.2" width="26.599999999999994" height="27.4" fill="#997d5d"/>
<rect x="1300.6" y="594.2" width="26.599999999999994" height="27.4" fill="#8f7455"/>
<rect x="1300.6" y="672.2" width="26.599999999999994" height="27.4" fill="#8a6f51"/>
<rect x="1382.0" y="126.2" width="26.599999999999994" height="27.4" fill="#b79975"/>
<rect x="1382.0" y="204.2" width="26.599999999999994" height="27.4" fill="#b49773"/>
<rect x="1382.0" y="282.2" width="26.599999999999994" height="27.4" fill="#b09370"/>
<rect x="1382.0" y="360.2" width="26.599999999999994" height="27.4" fill="#ab8f6c"/>
<rect x="1382.0" y="438.2" width="26.599999999999994" height="27.4" fill="#a58866"/>
<rect x="1382.0" y="516.2" width="26.599999999999994" height="27.4" fill="#9d8160"/>
<rect x="1382.0" y="594.2" width="26.599999999999994" height="27.4" fill="#947858"/>
<rect x="1382.0" y="672.2" width="26.599999999999994" height="27.4" fill="#8f7455"/>
<rect x="1463.4" y="126.2" width="26.599999999999994" height="27.4" fill="#b69975"/>
<rect x="1463.4" y="204.2" width="26.599999999999994" height="27.4" fill="#b59773"/>
<rect x="1463.4" y="282.2" width="26.599999999999994" height="27.4" fill="#b19471"/>
<rect x="1463.4" y="360.2" width="26.599999999999994" height="27.4" fill="#ad906d"/>
<rect x="1463.4" y="438.2" width="26.599999999999994" height="27.4" fill="#a78a68"/>
<rect x="1463.4" y="516.2" width="26.599999999999994" height="27.4" fill="#a08362"/>
<rect x="1463.4" y="594.2" width="26.599999999999994" height="27.4" fill="#977b5b"/>
<rect x="1463.4" y="672.2" width="26.599999999999994" height="27.4" fill="#937757"/>
<rect x="1544.8" y="126.2" width="26.599999999999994" height="27.4" fill="#b59773"/>
<rect x="1544.8" y="204.2" width="26.599999999999994" height="27.4" fill="#b39672"/>
<rect x="1544.8" y="282.2" width="26.599999999999994" height="27.4" fill="#b09370"/>
<rect x="1544.8" y="360.2" width="26.599999999999994" height="27.4" fill="#ac906d"/>
<rect x="1544.8" y="438.2" width="26.599999999999994" height="27.4" fill="#a78a68"/>
<rect x="1544.8" y="516.2" width="26.599999999999994" height="27.4" fill="#a08463"/>
<rect x="1544.8" y="594.2" width="26.599999999999994" height="27.4" fill="#987c5c"/>
<rect x="1544.8" y="672.2" width="26.599999999999994" height="27.4" fill="#947858"/>
<rect x="1626.2" y="126.2" width="26.599999999999994" height="27.4" fill="#b19470"/>
<rect x="1626.2" y="204.2" width="26.599999999999994" height="27.4" fill="#b09370"/>
<rect x="1626.2" y="282.2" width="26.599999999999994" height="27.4" fill="#ae916e"/>
<rect x="1626.2" y="360.2" width="26.599999999999994" height="27.4" fill="#aa8e6b"/>
<rect x="1626.2" y="438.2" width="26.599999999999994" height="27.4" fill="#a58967"/>
<rect x="1626.2" y="516.2" width="26.599999999999994" height="27.4" fill="#9f8362"/>
<rect x="1626.2" y="594.2" width="26.599999999999994" height="27.4" fill="#977c5b"/>
<rect x="1626.2" y="672.2" width="26.599999999999994" height="27.4" fill="#947858"/>
<rect x="1707.6" y="126.2" width="26.599999999999994" height="27.4" fill="#ae916e"/>
<rect x="1707.6" y="204.2" width="26.599999999999994" height="27.4" fill="#ad906d"/>
<rect x="1707.6" y="282.2" width="26.599999999999994" height="27.4" fill="#ab8e6c"/>
<rect x="1707.6" y="360.2" width="26.599999999999994" height="27.4" fill="#a88b69"/>
<rect x="1707.6" y="438.2" width="26.599999999999994" height="27.4" fill="#a38765"/>
<rect x="1707.6" y="516.2" width="26.599999999999994" height="27.4" fill="#9d8160"/>
<rect x="1707.6" y="594.2" width="26.599999999999994" height="27.4" fill="#967a5a"/>
<rect x="1707.6" y="672.2" width="26.599999999999994" height="27.4" fill="#927757"/>
</g>
</g>
<rect x="1014.3" y="113.2" width="677.0" height="527.0999999999999" fill="none" stroke="#140c06" stroke-width="2.4"/>
<text x="1569" y="554.4" font-family='"Liberation Serif", "DejaVu Serif", serif' font-size="41" font-weight="bold" fill="#000" text-anchor="start" textLength="112" lengthAdjust="spacingAndGlyphs" >20 µm</text>
<rect x="1611" y="577" width="31.5" height="11.5" fill="#000"/>
<line x1="1000.3" x2="1014.3" y1="145.0" y2="145.0" stroke="#000" stroke-width="2.4"/>
<line x1="1006.7" x2="1014.3" y1="183.6" y2="183.6" stroke="#000" stroke-width="2.2"/>
<line x1="1000.3" x2="1014.3" y1="222.3" y2="222.3" stroke="#000" stroke-width="2.4"/>
<line x1="1006.7" x2="1014.3" y1="261.0" y2="261.0" stroke="#000" stroke-width="2.2"/>
<line x1="1000.3" x2="1014.3" y1="299.6" y2="299.6" stroke="#000" stroke-width="2.4"/>
<line x1="1006.7" x2="1014.3" y1="338.3" y2="338.3" stroke="#000" stroke-width="2.2"/>
<line x1="1000.3" x2="1014.3" y1="377.0" y2="377.0" stroke="#000" stroke-width="2.4"/>
<line x1="1006.7" x2="1014.3" y1="415.7" y2="415.7" stroke="#000" stroke-width="2.2"/>
<line x1="1000.3" x2="1014.3" y1="454.4" y2="454.4" stroke="#000" stroke-width="2.4"/>
<line x1="1006.7" x2="1014.3" y1="493.0" y2="493.0" stroke="#000" stroke-width="2.2"/>
<line x1="1000.3" x2="1014.3" y1="531.7" y2="531.7" stroke="#000" stroke-width="2.4"/>
<line x1="1006.7" x2="1014.3" y1="570.4" y2="570.4" stroke="#000" stroke-width="2.2"/>
<line x1="1000.3" x2="1014.3" y1="609.0" y2="609.0" stroke="#000" stroke-width="2.4"/>
<text x="996" y="155.15" font-family='"Liberation Serif", "DejaVu Serif", serif' font-size="28" font-weight="bold" fill="#000" text-anchor="end" textLength="47.5" lengthAdjust="spacingAndGlyphs" >-150</text>
<text x="996" y="232.5" font-family='"Liberation Serif", "DejaVu Serif", serif' font-size="28" font-weight="bold" fill="#000" text-anchor="end" textLength="47.5" lengthAdjust="spacingAndGlyphs" >-100</text>
<text x="996" y="309.84999999999997" font-family='"Liberation Serif", "DejaVu Serif", serif' font-size="28" font-weight="bold" fill="#000" text-anchor="end" textLength="33.5" lengthAdjust="spacingAndGlyphs" >-50</text>
<text x="996" y="387.2" font-family='"Liberation Serif", "DejaVu Serif", serif' font-size="28" font-weight="bold" fill="#000" text-anchor="end" >0</text>
<text x="996" y="464.55" font-family='"Liberation Serif", "DejaVu Serif", serif' font-size="28" font-weight="bold" fill="#000" text-anchor="end" >50</text>
<text x="996" y="541.9000000000001" font-family='"Liberation Serif", "DejaVu Serif", serif' font-size="28" font-weight="bold" fill="#000" text-anchor="end" >100</text>
<text x="996" y="619.25" font-family='"Liberation Serif", "DejaVu Serif", serif' font-size="28" font-weight="bold" fill="#000" text-anchor="end" >150</text>
<line x1="1032.5" x2="1032.5" y1="640.3" y2="654.8" stroke="#000" stroke-width="2.4"/>
<line x1="1112.5" x2="1112.5" y1="640.3" y2="649.3" stroke="#000" stroke-width="2.2"/>
<line x1="1192.5" x2="1192.5" y1="640.3" y2="654.8" stroke="#000" stroke-width="2.4"/>
<line x1="1272.5" x2="1272.5" y1="640.3" y2="649.3" stroke="#000" stroke-width="2.2"/>
<line x1="1352.5" x2="1352.5" y1="640.3" y2="654.8" stroke="#000" stroke-width="2.4"/>
<line x1="1432.5" x2="1432.5" y1="640.3" y2="649.3" stroke="#000" stroke-width="2.2"/>
<line x1="1512.5" x2="1512.5" y1="640.3" y2="654.8" stroke="#000" stroke-width="2.4"/>
<line x1="1592.5" x2="1592.5" y1="640.3" y2="649.3" stroke="#000" stroke-width="2.2"/>
<line x1="1672.5" x2="1672.5" y1="640.3" y2="654.8" stroke="#000" stroke-width="2.4"/>
<text x="1038.6" y="683" font-family='"Liberation Serif", "DejaVu Serif", serif' font-size="28" font-weight="bold" fill="#000" text-anchor="middle" >-200</text>
<text x="1193" y="683" font-family='"Liberation Serif", "DejaVu Serif", serif' font-size="28" font-weight="bold" fill="#000" text-anchor="middle" >-100</text>
<text x="1352.4" y="683" font-family='"Liberation Serif", "DejaVu Serif", serif' font-size="28" font-weight="bold" fill="#000" text-anchor="middle" >0</text>
<text x="1512" y="683" font-family='"Liberation Serif", "DejaVu Serif", serif' font-size="28" font-weight="bold" fill="#000" text-anchor="middle" >100</text>
<text x="1670.8" y="683" font-family='"Liberation Serif", "DejaVu Serif", serif' font-size="28" font-weight="bold" fill="#000" text-anchor="middle" >200</text>
<text x="1315.5" y="714.5" font-family='"Liberation Sans", "DejaVu Sans", sans-serif' font-size="34" font-weight="bold" fill="#000" text-anchor="start" textLength="109" lengthAdjust="spacingAndGlyphs" >X (µm)</text>
<text transform="translate(952.4 438) rotate(-90)" font-family='"Liberation Sans", "DejaVu Sans", sans-serif' font-size="35.5" font-weight="bold" fill="#000" textLength="113" lengthAdjust="spacingAndGlyphs" >Y (µm)</text>
</g>
<g id="panelC">
<line x1="138" x2="138" y1="881" y2="1309" stroke="#8a8a8a" stroke-width="2" stroke-dasharray="2.2 4.3"/>
<line x1="157.8" x2="157.8" y1="893" y2="1323" stroke="#8a8a8a" stroke-width="2" stroke-dasharray="2.2 4.3"/>
<line x1="181.5" x2="181.5" y1="905" y2="1309" stroke="#8a8a8a" stroke-width="2" stroke-dasharray="2.2 4.3"/>
<line x1="202.2" x2="202.2" y1="897" y2="1309" stroke="#8a8a8a" stroke-width="2" stroke-dasharray="2.2 4.3"/>
<line x1="212.6" x2="212.6" y1="912" y2="1309" stroke="#8a8a8a" stroke-width="2" stroke-dasharray="2.2 4.3"/>
<line x1="221.9" x2="221.9" y1="911" y2="1309" stroke="#8a8a8a" stroke-width="2" stroke-dasharray="2.2 4.3"/>
<line x1="240.2" x2="240.2" y1="922" y2="1309" stroke="#8a8a8a" stroke-width="2" stroke-dasharray="2.2 4.3"/>
<line x1="384.2" x2="384.2" y1="1166" y2="1309" stroke="#8a8a8a" stroke-width="2" stroke-dasharray="2.2 4.3"/>
<path d="M112.3 1311.8 L112.3 734.0 L810.8 734.0 L810.8 1311.8" fill="none" stroke="#111" stroke-width="2.2"/>
<line x1="102.5" x2="810.8" y1="1311.8" y2="1311.8" stroke="#111" stroke-width="2.4"/>
<line x1="102.5" x2="112.3" y1="1311.8" y2="1311.8" stroke="#111" stroke-width="2.4"/>
<text x="95.5" y="1321.1" font-family='"Liberation Sans", "DejaVu Sans", sans-serif' font-size="26" font-weight="bold" fill="#000" text-anchor="end" >0,0</text>
<line x1="107.3" x2="112.3" y1="1275.7" y2="1275.7" stroke="#111" stroke-width="2.2"/>
<line x1="102.5" x2="112.3" y1="1239.6" y2="1239.6" stroke="#111" stroke-width="2.4"/>
<text x="95.5" y="1248.8799999999999" font-family='"Liberation Sans", "DejaVu Sans", sans-serif' font-size="26" font-weight="bold" fill="#000" text-anchor="end" >0,2</text>
<line x1="107.3" x2="112.3" y1="1203.5" y2="1203.5" stroke="#111" stroke-width="2.2"/>
<line x1="102.5" x2="112.3" y1="1167.4" y2="1167.4" stroke="#111" stroke-width="2.4"/>
<text x="95.5" y="1176.6599999999999" font-family='"Liberation Sans", "DejaVu Sans", sans-serif' font-size="26" font-weight="bold" fill="#000" text-anchor="end" >0,4</text>
<line x1="107.3" x2="112.3" y1="1131.2" y2="1131.2" stroke="#111" stroke-width="2.2"/>
<line x1="102.5" x2="112.3" y1="1095.1" y2="1095.1" stroke="#111" stroke-width="2.4"/>
<text x="95.5" y="1104.4399999999998" font-family='"Liberation Sans", "DejaVu Sans", sans-serif' font-size="26" font-weight="bold" fill="#000" text-anchor="end" >0,6</text>
<line x1="107.3" x2="112.3" y1="1059.0" y2="1059.0" stroke="#111" stroke-width="2.2"/>
<line x1="102.5" x2="112.3" y1="1022.9" y2="1022.9" stroke="#111" stroke-width="2.4"/>
<text x="95.5" y="1032.2199999999998" font-family='"Liberation Sans", "DejaVu Sans", sans-serif' font-size="26" font-weight="bold" fill="#000" text-anchor="end" >0,8</text>
<line x1="107.3" x2="112.3" y1="986.8" y2="986.8" stroke="#111" stroke-width="2.2"/>
<line x1="102.5" x2="112.3" y1="950.7" y2="950.7" stroke="#111" stroke-width="2.4"/>
<text x="95.5" y="959.9999999999999" font-family='"Liberation Sans", "DejaVu Sans", sans-serif' font-size="26" font-weight="bold" fill="#000" text-anchor="end" >1,0</text>
<line x1="107.3" x2="112.3" y1="914.6" y2="914.6" stroke="#111" stroke-width="2.2"/>
<line x1="102.5" x2="112.3" y1="878.5" y2="878.5" stroke="#111" stroke-width="2.4"/>
<text x="95.5" y="887.7799999999997" font-family='"Liberation Sans", "DejaVu Sans", sans-serif' font-size="26" font-weight="bold" fill="#000" text-anchor="end" >1,2</text>
<line x1="107.3" x2="112.3" y1="842.4" y2="842.4" stroke="#111" stroke-width="2.2"/>
<line x1="102.5" x2="112.3" y1="806.3" y2="806.3" stroke="#111" stroke-width="2.4"/>
<text x="95.5" y="815.5599999999998" font-family='"Liberation Sans", "DejaVu Sans", sans-serif' font-size="26" font-weight="bold" fill="#000" text-anchor="end" >1,4</text>
<line x1="107.3" x2="112.3" y1="770.1" y2="770.1" stroke="#111" stroke-width="2.2"/>
<line x1="102.5" x2="112.3" y1="734.0" y2="734.0" stroke="#111" stroke-width="2.4"/>
<text x="95.5" y="743.3399999999998" font-family='"Liberation Sans", "DejaVu Sans", sans-serif' font-size="26" font-weight="bold" fill="#000" text-anchor="end" >1,6</text>
<line x1="132.0" x2="132.0" y1="1311.8" y2="1323.3" stroke="#111" stroke-width="2.4"/>
<text x="132.5" y="1355" font-family='"Liberation Sans", "DejaVu Sans", sans-serif' font-size="27" font-weight="bold" fill="#000" text-anchor="middle" >300</text>
<line x1="199.8" x2="199.8" y1="1311.8" y2="1317.3" stroke="#111" stroke-width="2.2"/>
<line x1="267.6" x2="267.6" y1="1311.8" y2="1323.3" stroke="#111" stroke-width="2.4"/>
<text x="268.15" y="1355" font-family='"Liberation Sans", "DejaVu Sans", sans-serif' font-size="27" font-weight="bold" fill="#000" text-anchor="middle" >400</text>
<line x1="335.5" x2="335.5" y1="1311.8" y2="1317.3" stroke="#111" stroke-width="2.2"/>
<line x1="403.3" x2="403.3" y1="1311.8" y2="1323.3" stroke="#111" stroke-width="2.4"/>
<text x="403.8" y="1355" font-family='"Liberation Sans", "DejaVu Sans", sans-serif' font-size="27" font-weight="bold" fill="#000" text-anchor="middle" >500</text>
<line x1="471.1" x2="471.1" y1="1311.8" y2="1317.3" stroke="#111" stroke-width="2.2"/>
<line x1="539.0" x2="539.0" y1="1311.8" y2="1323.3" stroke="#111" stroke-width="2.4"/>
<text x="539.45" y="1355" font-family='"Liberation Sans", "DejaVu Sans", sans-serif' font-size="27" font-weight="bold" fill="#000" text-anchor="middle" >600</text>
<line x1="606.8" x2="606.8" y1="1311.8" y2="1317.3" stroke="#111" stroke-width="2.2"/>
<line x1="674.6" x2="674.6" y1="1311.8" y2="1323.3" stroke="#111" stroke-width="2.4"/>
<text x="675.1" y="1355" font-family='"Liberation Sans", "DejaVu Sans", sans-serif' font-size="27" font-weight="bold" fill="#000" text-anchor="middle" >700</text>
<line x1="742.4" x2="742.4" y1="1311.8" y2="1317.3" stroke="#111" stroke-width="2.2"/>
<line x1="810.2" x2="810.2" y1="1311.8" y2="1323.3" stroke="#111" stroke-width="2.4"/>
<text x="810.75" y="1355" font-family='"Liberation Sans", "DejaVu Sans", sans-serif' font-size="27" font-weight="bold" fill="#000" text-anchor="middle" >800</text>
<text x="322" y="1399.7" font-family='"Liberation Sans", "DejaVu Sans", sans-serif' font-size="32" font-weight="bold" fill="#000" text-anchor="start" textLength="256" lengthAdjust="spacingAndGlyphs" >Wavelength (nm)</text>
<text transform="translate(38 1122) rotate(-90)" font-family='"Liberation Sans", "DejaVu Sans", sans-serif' font-size="40.5" font-weight="bold" fill="#000" textLength="247" lengthAdjust="spacingAndGlyphs" >Absorbance</text>
<clipPath id="clipC"><rect x="112.3" y="734.0" width="700.0" height="577.8"/></clipPath>
<g clip-path="url(#clipC)">
<path d="M113.0 735.5 C113.2 739.5 113.8 749.9 114.4 759.0 C115.0 768.1 115.7 780.5 116.4 789.0 C117.1 797.5 117.7 801.4 118.5 809.0 C119.3 816.6 120.2 825.7 121.3 834.0 C122.4 842.3 123.9 851.0 125.2 858.0 C126.5 865.0 128.0 871.2 129.2 875.0 C130.4 878.8 131.2 879.3 132.5 880.5 C133.8 881.7 135.6 880.4 136.8 882.0 C138.0 883.6 138.5 887.5 139.5 890.0 C140.5 892.5 141.3 894.9 142.5 897.0 C143.7 899.1 145.1 901.1 146.5 902.5 C147.9 903.9 149.5 905.6 150.8 905.0 C152.1 904.4 153.1 901.1 154.3 899.0 C155.5 896.9 156.7 892.2 157.8 892.5 C158.9 892.8 159.5 898.0 160.7 900.5 C161.9 903.0 163.4 905.3 165.0 907.0 C166.6 908.7 168.3 909.6 170.0 910.5 C171.7 911.4 173.4 912.2 175.0 912.0 C176.6 911.8 178.0 910.9 179.5 909.5 C181.0 908.1 182.5 904.9 184.0 904.0 C185.5 903.1 187.0 903.7 188.4 904.0 C189.8 904.3 191.2 905.8 192.5 906.0 C193.8 906.2 194.9 906.0 196.0 905.0 C197.1 904.0 197.9 901.6 199.0 900.0 C200.1 898.4 201.2 895.2 202.4 895.5 C203.6 895.8 204.7 899.4 206.0 901.5 C207.3 903.6 208.6 906.1 210.0 908.0 C211.4 909.9 212.6 911.6 214.0 912.5 C215.4 913.4 217.1 913.8 218.5 913.5 C219.9 913.2 220.9 911.3 222.0 910.5 C223.1 909.7 223.7 908.4 225.0 909.0 C226.3 909.6 227.9 912.4 229.5 914.0 C231.1 915.6 232.8 917.4 234.5 918.5 C236.2 919.6 238.3 918.4 239.5 920.5 C240.7 922.6 240.7 927.9 241.5 931.0 C242.3 934.1 242.7 935.6 244.0 938.5 C245.3 941.4 246.9 944.6 249.0 948.0 C251.1 951.4 253.7 954.9 256.4 958.5 C259.1 962.1 260.4 963.0 264.8 969.0 C269.2 975.0 276.8 985.0 282.3 994.0 C287.8 1003.0 291.7 1011.8 297.2 1022.0 C302.7 1032.2 308.1 1042.3 314.4 1054.0 C320.7 1065.7 327.4 1079.3 334.1 1091.0 C340.8 1102.7 347.6 1113.4 353.9 1123.0 C360.2 1132.6 366.7 1141.5 371.1 1147.5 C375.5 1153.5 377.8 1155.6 380.0 1158.0 C382.2 1160.4 382.6 1159.5 384.0 1161.5 C385.4 1163.5 385.8 1165.7 388.4 1170.0 C391.0 1174.3 394.8 1180.8 399.4 1187.0 C404.0 1193.2 409.4 1200.2 415.5 1206.5 C421.6 1212.8 428.1 1218.5 435.2 1224.0 C442.3 1229.5 449.9 1234.5 457.4 1238.8 C464.9 1243.1 472.3 1246.4 479.5 1249.5 C486.7 1252.6 491.4 1254.4 500.0 1257.0 C508.6 1259.6 519.8 1262.6 530.0 1265.0 C540.2 1267.4 548.1 1269.1 560.0 1271.0 C571.9 1272.9 584.7 1274.5 600.0 1276.0 C615.3 1277.5 633.0 1278.9 650.0 1280.0 C667.0 1281.1 683.0 1281.9 700.0 1282.7 C717.0 1283.5 731.3 1284.1 750.0 1284.7 C768.7 1285.3 799.8 1286.0 810.0 1286.3" fill="none" stroke="#ff00ff" stroke-width="5.2" stroke-linejoin="round" stroke-linecap="butt"/>
<path d="M113.2 1025.6 C113.4 1032.5 113.7 1051.7 114.2 1066.0 C114.7 1080.3 115.3 1095.4 116.3 1110.0 C117.3 1124.6 118.4 1138.6 119.8 1152.0 C121.2 1165.4 123.0 1178.5 124.6 1189.0 C126.2 1199.5 128.2 1208.4 129.5 1214.0 C130.8 1219.6 131.3 1219.5 132.5 1222.0 C133.7 1224.5 135.6 1225.4 136.8 1228.5 C138.0 1231.6 138.5 1236.2 139.5 1240.0 C140.5 1243.8 141.3 1247.7 142.5 1251.0 C143.7 1254.3 145.1 1257.5 146.5 1259.5 C147.9 1261.5 149.4 1263.8 150.8 1263.0 C152.2 1262.2 153.3 1257.1 154.5 1255.0 C155.7 1252.9 156.8 1249.0 157.9 1250.5 C159.0 1252.0 159.8 1260.4 160.8 1264.0 C161.8 1267.6 162.8 1269.5 164.0 1271.5 C165.2 1273.5 166.6 1274.7 168.0 1276.0 C169.4 1277.3 170.7 1278.2 172.0 1279.0 C173.3 1279.8 174.3 1280.8 175.5 1280.5 C176.7 1280.2 177.8 1278.3 179.0 1277.0 C180.2 1275.7 181.3 1273.8 182.5 1273.0 C183.7 1272.2 184.8 1271.8 186.0 1272.0 C187.2 1272.2 188.4 1273.3 189.5 1274.0 C190.6 1274.7 191.4 1276.5 192.5 1276.0 C193.6 1275.5 194.8 1273.0 196.0 1271.0 C197.2 1269.0 198.3 1266.1 199.5 1264.5 C200.7 1262.9 201.9 1261.2 203.0 1261.5 C204.1 1261.8 205.0 1264.2 206.0 1266.0 C207.0 1267.8 207.9 1270.2 209.0 1272.0 C210.1 1273.8 211.3 1275.4 212.5 1276.5 C213.7 1277.6 214.9 1278.8 216.0 1278.5 C217.1 1278.2 217.9 1276.1 219.0 1274.5 C220.1 1272.9 221.2 1270.3 222.5 1269.0 C223.8 1267.7 225.2 1267.1 226.5 1267.0 C227.8 1266.9 228.8 1268.0 230.0 1268.5 C231.2 1269.0 232.4 1270.2 233.5 1270.0 C234.6 1269.8 235.4 1268.5 236.5 1267.5 C237.6 1266.5 238.8 1262.6 239.8 1264.0 C240.8 1265.4 241.4 1272.4 242.2 1276.0 C243.0 1279.6 243.5 1282.6 244.5 1285.0 C245.5 1287.4 246.6 1288.9 248.0 1290.0 C249.4 1291.1 250.6 1291.1 253.0 1291.5 C255.4 1291.9 254.0 1292.1 262.0 1292.3 C270.0 1292.5 285.0 1292.5 300.0 1292.6 C315.0 1292.7 338.1 1292.8 350.0 1292.8 C361.9 1292.8 365.8 1293.0 370.0 1292.8 C374.2 1292.6 373.4 1292.2 375.0 1291.5 C376.6 1290.8 377.9 1289.3 379.5 1288.5 C381.1 1287.7 382.7 1286.4 384.2 1286.5 C385.7 1286.6 387.0 1288.1 388.5 1289.0 C390.0 1289.9 391.0 1291.1 393.0 1291.8 C395.0 1292.5 390.3 1292.7 400.0 1293.0 C409.7 1293.3 424.5 1293.2 450.0 1293.3 C475.5 1293.4 507.5 1293.5 550.0 1293.6 C592.5 1293.7 655.8 1293.8 700.0 1293.8 C744.2 1293.8 791.3 1293.8 810.0 1293.8" fill="none" stroke="#000" stroke-width="5.4" stroke-linejoin="round" stroke-linecap="butt"/>
</g>
<path d="M129.3 858 L129.3 832.6 L255 832.6" fill="none" stroke="#111" stroke-width="2.4"/>
<path d="M255.2 831.4 L255.2 857" fill="none" stroke="#111" stroke-width="3.6"/>
<polygon points="186.4,819 183,833 189.8,833" fill="#111"/>
<text x="169.5" y="815.7" font-family='"Liberation Sans", "DejaVu Sans", sans-serif' font-size="31.5" font-weight="bold" fill="#000" text-anchor="start" textLength="33.5" lengthAdjust="spacingAndGlyphs" >Tb</text>
<text x="205.0" y="801.7" font-family='"Liberation Sans", "DejaVu Sans", sans-serif' font-size="30" font-weight="bold" fill="#000" text-anchor="start" textLength="30" lengthAdjust="spacingAndGlyphs" >3+</text>
<text x="306.5" y="912.2" font-family='"Liberation Sans", "DejaVu Sans", sans-serif' font-size="31.5" font-weight="bold" fill="#000" text-anchor="start" textLength="33" lengthAdjust="spacingAndGlyphs" >Tb</text>
<text x="341.5" y="899.9000000000001" font-family='"Liberation Sans", "DejaVu Sans", sans-serif' font-size="30" font-weight="bold" fill="#000" text-anchor="start" textLength="31" lengthAdjust="spacingAndGlyphs" >4+</text>
<text x="371" y="1109.4" font-family='"Liberation Sans", "DejaVu Sans", sans-serif' font-size="31.5" font-weight="bold" fill="#000" text-anchor="start" textLength="31" lengthAdjust="spacingAndGlyphs" >Tb</text>
<text x="404" y="1097.0" font-family='"Liberation Sans", "DejaVu Sans", sans-serif' font-size="30" font-weight="bold" fill="#000" text-anchor="start" textLength="30.5" lengthAdjust="spacingAndGlyphs" >3+</text>
<text x="139" y="871" font-family='"Liberation Sans", "DejaVu Sans", sans-serif' font-size="21" font-weight="bold" fill="#111" text-anchor="middle" textLength="10.5" lengthAdjust="spacingAndGlyphs" >1</text>
<text x="157.8" y="867" font-family='"Liberation Sans", "DejaVu Sans", sans-serif' font-size="21" font-weight="bold" fill="#111" text-anchor="middle" textLength="10.5" lengthAdjust="spacingAndGlyphs" >2</text>
<text x="181.5" y="867" font-family='"Liberation Sans", "DejaVu Sans", sans-serif' font-size="21" font-weight="bold" fill="#111" text-anchor="middle" textLength="10.5" lengthAdjust="spacingAndGlyphs" >3</text>
<text x="201.2" y="867" font-family='"Liberation Sans", "DejaVu Sans", sans-serif' font-size="21" font-weight="bold" fill="#111" text-anchor="middle" textLength="10.5" lengthAdjust="spacingAndGlyphs" >4</text>
<text x="214" y="882.7" font-family='"Liberation Sans", "DejaVu Sans", sans-serif' font-size="21" font-weight="bold" fill="#111" text-anchor="middle" textLength="10.5" lengthAdjust="spacingAndGlyphs" >5</text>
<text x="227.8" y="873" font-family='"Liberation Sans", "DejaVu Sans", sans-serif' font-size="21" font-weight="bold" fill="#111" text-anchor="middle" textLength="10.5" lengthAdjust="spacingAndGlyphs" >6</text>
<text x="243.6" y="897.5" font-family='"Liberation Sans", "DejaVu Sans", sans-serif' font-size="21" font-weight="bold" fill="#111" text-anchor="middle" textLength="10.5" lengthAdjust="spacingAndGlyphs" >7</text>
<text x="385.9" y="1143.2" font-family='"Liberation Sans", "DejaVu Sans", sans-serif' font-size="21" font-weight="bold" fill="#111" text-anchor="middle" textLength="10.5" lengthAdjust="spacingAndGlyphs" >8</text>
<text x="274.3" y="944.3" font-family='"Liberation Sans", "DejaVu Sans", sans-serif' font-size="24.5" font-weight="normal" fill="#222" text-anchor="start" textLength="138.5" lengthAdjust="spacingAndGlyphs" >(~300-500nm)</text>
<line x1="282.5" y1="992.5" x2="309" y2="968.8" stroke="#333" stroke-width="1.5"/>
<polygon points="317.2,961.5 309.5,973.5 304.2,967.2" fill="#222"/>
<rect x="606.6" y="741.6" width="200" height="100" fill="#999" opacity="0.5"/>
<rect x="605.3" y="740.2" width="199.8" height="99.8" fill="#fff" stroke="#666" stroke-width="1.8"/>
<line x1="623.5" x2="668.5" y1="776.4" y2="776.4" stroke="#ff00ff" stroke-width="6.2" stroke-linecap="round"/>
<line x1="623.5" x2="668.5" y1="824.4" y2="824.4" stroke="#000" stroke-width="6.2" stroke-linecap="round"/>
<text x="678.5" y="784.2" font-family='"Liberation Sans", "DejaVu Sans", sans-serif' font-size="35" font-weight="bold" fill="#000" text-anchor="start" textLength="117.5" lengthAdjust="spacingAndGlyphs" >BGTb-H</text>
<text x="678.5" y="832" font-family='"Liberation Sans", "DejaVu Sans", sans-serif' font-size="35" font-weight="bold" fill="#000" text-anchor="start" textLength="84" lengthAdjust="spacingAndGlyphs" >BGTb</text>
<line x1="574.4" x2="574.4" y1="861.4499999999999" y2="1220.8" stroke="#444" stroke-width="2"/>
<line x1="574.4" x2="580.6" y1="1219.8" y2="1219.8" stroke="#444" stroke-width="1.8"/>
<text x="567.3" y="1227.0" font-family='"Liberation Sans", "DejaVu Sans", sans-serif' font-size="20" font-weight="bold" fill="#222" text-anchor="end" textLength="9.8" lengthAdjust="spacingAndGlyphs" >0</text>
<line x1="574.4" x2="580.6" y1="1168.8" y2="1168.8" stroke="#444" stroke-width="1.8"/>
<text x="567.3" y="1175.95" font-family='"Liberation Sans", "DejaVu Sans", sans-serif' font-size="20" font-weight="bold" fill="#222" text-anchor="end" textLength="9.8" lengthAdjust="spacingAndGlyphs" >5</text>
<line x1="574.4" x2="580.6" y1="1117.7" y2="1117.7" stroke="#444" stroke-width="1.8"/>
<text x="567.3" y="1124.9" font-family='"Liberation Sans", "DejaVu Sans", sans-serif' font-size="20" font-weight="bold" fill="#222" text-anchor="end" textLength="20.5" lengthAdjust="spacingAndGlyphs" >10</text>
<line x1="574.4" x2="580.6" y1="1066.6" y2="1066.6" stroke="#444" stroke-width="1.8"/>
<text x="567.3" y="1073.85" font-family='"Liberation Sans", "DejaVu Sans", sans-serif' font-size="20" font-weight="bold" fill="#222" text-anchor="end" textLength="20.5" lengthAdjust="spacingAndGlyphs" >15</text>
<line x1="574.4" x2="580.6" y1="1015.6" y2="1015.6" stroke="#444" stroke-width="1.8"/>
<text x="567.3" y="1022.8" font-family='"Liberation Sans", "DejaVu Sans", sans-serif' font-size="20" font-weight="bold" fill="#222" text-anchor="end" textLength="20.5" lengthAdjust="spacingAndGlyphs" >20</text>
<line x1="574.4" x2="580.6" y1="964.5" y2="964.5" stroke="#444" stroke-width="1.8"/>
<text x="567.3" y="971.75" font-family='"Liberation Sans", "DejaVu Sans", sans-serif' font-size="20" font-weight="bold" fill="#222" text-anchor="end" textLength="20.5" lengthAdjust="spacingAndGlyphs" >25</text>
<line x1="574.4" x2="580.6" y1="913.5" y2="913.5" stroke="#444" stroke-width="1.8"/>
<text x="567.3" y="920.7" font-family='"Liberation Sans", "DejaVu Sans", sans-serif' font-size="20" font-weight="bold" fill="#222" text-anchor="end" textLength="20.5" lengthAdjust="spacingAndGlyphs" >30</text>
<line x1="574.4" x2="580.6" y1="862.4" y2="862.4" stroke="#444" stroke-width="1.8"/>
<text x="567.3" y="869.65" font-family='"Liberation Sans", "DejaVu Sans", sans-serif' font-size="20" font-weight="bold" fill="#222" text-anchor="end" textLength="20.5" lengthAdjust="spacingAndGlyphs" >35</text>
<line x1="574.4" x2="577.8" y1="1194.3" y2="1194.3" stroke="#555" stroke-width="1.5"/>
<line x1="574.4" x2="577.8" y1="1143.2" y2="1143.2" stroke="#555" stroke-width="1.5"/>
<line x1="574.4" x2="577.8" y1="1092.2" y2="1092.2" stroke="#555" stroke-width="1.5"/>
<line x1="574.4" x2="577.8" y1="1041.1" y2="1041.1" stroke="#555" stroke-width="1.5"/>
<line x1="574.4" x2="577.8" y1="990.1" y2="990.1" stroke="#555" stroke-width="1.5"/>
<line x1="574.4" x2="577.8" y1="939.0" y2="939.0" stroke="#555" stroke-width="1.5"/>
<line x1="574.4" x2="577.8" y1="888.0" y2="888.0" stroke="#555" stroke-width="1.5"/>
<g transform="translate(540.2 1150) rotate(-90)" font-family='"Liberation Sans", "DejaVu Sans", sans-serif' font-weight="bold" fill="#222">
<text x="0" y="0" font-size="26.5" textLength="124" lengthAdjust="spacingAndGlyphs">Energy/10</text>
<text x="125" y="-10" font-size="23" textLength="12" lengthAdjust="spacingAndGlyphs">3</text>
<text x="145" y="0" font-size="26.5" textLength="39" lengthAdjust="spacingAndGlyphs">cm</text>
<text x="185" y="-10" font-size="23" textLength="21" lengthAdjust="spacingAndGlyphs">-1</text>
</g>
<rect x="595.6" y="875.6" width="84" height="77.8" fill="#c9c9c9" stroke="#a9a9a9" stroke-width="1.6"/>
<line x1="627.8" x2="627.8" y1="966" y2="1219.8" stroke="#777" stroke-width="1.2"/>
<polygon points="627.8,959.3 625.3,968.5 630.3,968.5" fill="#333"/>
<text transform="translate(651 1106.2) rotate(-90)" font-family='"Liberation Sans", "DejaVu Sans", sans-serif' font-size="23.3" font-weight="bold" fill="#222" textLength="64.5" lengthAdjust="spacingAndGlyphs" >LMCT</text>
<line x1="599.8" x2="666" y1="1220.9" y2="1220.9" stroke="#444" stroke-width="3.3"/>
<line x1="707.8" x2="707.8" y1="883" y2="1221" stroke="#8c8c8c" stroke-width="1.1"/>
<polygon points="707.8,878.5 705.4,886 710.1999999999999,886" fill="#222"/>
<line x1="716.1" x2="716.1" y1="893.5" y2="1221" stroke="#8c8c8c" stroke-width="1.1"/>
<polygon points="716.1,889.0 713.7,896.5 718.5,896.5" fill="#222"/>
<line x1="726" x2="726" y1="921.6" y2="1221" stroke="#8c8c8c" stroke-width="1.1"/>
<polygon points="726,917.1 723.6,924.6 728.4,924.6" fill="#222"/>
<line x1="735.6" x2="735.6" y1="930" y2="1221" stroke="#8c8c8c" stroke-width="1.1"/>
<polygon points="735.6,925.5 733.2,933 738.0,933" fill="#222"/>
<line x1="742.1" x2="742.1" y1="937.4" y2="1221" stroke="#8c8c8c" stroke-width="1.1"/>
<polygon points="742.1,932.9 739.7,940.4 744.5,940.4" fill="#222"/>
<line x1="750.5" x2="750.5" y1="950.4" y2="1221" stroke="#8c8c8c" stroke-width="1.1"/>
<polygon points="750.5,945.9 748.1,953.4 752.9,953.4" fill="#222"/>
<line x1="757.5" x2="757.5" y1="954" y2="1221" stroke="#8c8c8c" stroke-width="1.1"/>
<polygon points="757.5,949.5 755.1,957 759.9,957" fill="#222"/>
<line x1="767.2" x2="767.2" y1="1007.5" y2="1221" stroke="#8c8c8c" stroke-width="1.1"/>
<polygon points="767.2,1003.0 764.8000000000001,1010.5 769.6,1010.5" fill="#222"/>
<line x1="701.8" x2="771.8" y1="873.2" y2="873.2" stroke="#333" stroke-width="2.6"/>
<line x1="701.8" x2="771.8" y1="884.7" y2="884.7" stroke="#333" stroke-width="3"/>
<line x1="701.8" x2="771.8" y1="894" y2="894" stroke="#333" stroke-width="3"/>
<line x1="701.8" x2="771.8" y1="909.2" y2="909.2" stroke="#555" stroke-width="3.4"/>
<line x1="701.8" x2="771.8" y1="913.2" y2="913.2" stroke="#222" stroke-width="3.6"/>
<line x1="701.8" x2="771.8" y1="918.3" y2="918.3" stroke="#333" stroke-width="3"/>
<line x1="701.8" x2="771.8" y1="925.7" y2="925.7" stroke="#333" stroke-width="3"/>
<line x1="701.8" x2="771.8" y1="929.8" y2="929.8" stroke="#333" stroke-width="3"/>
<line x1="701.8" x2="771.8" y1="941.2" y2="941.2" stroke="#444" stroke-width="3.2"/>
<line x1="701.8" x2="771.8" y1="946.3" y2="946.3" stroke="#333" stroke-width="3.6"/>
<line x1="701.8" x2="771.8" y1="1157.2" y2="1157.2" stroke="#333" stroke-width="3"/>
<line x1="701.8" x2="771.8" y1="1160.4" y2="1160.4" stroke="#444" stroke-width="3"/>
<line x1="701.8" x2="771.8" y1="1163" y2="1163" stroke="#333" stroke-width="2.6"/>
<line x1="701.8" x2="771.8" y1="1168" y2="1168" stroke="#333" stroke-width="3"/>
<line x1="701.8" x2="771.8" y1="1176.9" y2="1176.9" stroke="#333" stroke-width="2.6"/>
<line x1="701.8" x2="771.8" y1="1187.9" y2="1187.9" stroke="#333" stroke-width="3.5"/>
<line x1="701.8" x2="771.8" y1="1202.7" y2="1202.7" stroke="#333" stroke-width="2.6"/>
<line x1="701.8" x2="771.8" y1="1221.8" y2="1221.8" stroke="#333" stroke-width="2.2"/>
<line x1="700.4" x2="771.8" y1="1003.1" y2="1003.1" stroke="#222" stroke-width="2.1"/>
<text x="776.3" y="872.2" font-family='"Liberation Sans", "DejaVu Sans", sans-serif' font-size="13.5" font-weight="bold" fill="#222" text-anchor="start" >5</text>
<text x="786.3" y="881.7" font-family='"Liberation Sans", "DejaVu Sans", sans-serif' font-size="14" font-weight="bold" fill="#222" text-anchor="start" >H</text>
<text x="797.8" y="886.2" font-family='"Liberation Sans", "DejaVu Sans", sans-serif' font-size="13.5" font-weight="bold" fill="#222" text-anchor="start" >6</text>
<text x="774.5" y="899.2" font-family='"Liberation Sans", "DejaVu Sans", sans-serif' font-size="13.5" font-weight="bold" fill="#222" text-anchor="start" >5</text>
<text x="783.9" y="908.7" font-family='"Liberation Sans", "DejaVu Sans", sans-serif' font-size="14" font-weight="bold" fill="#222" text-anchor="start" >D</text>
<text x="794.9" y="913.2" font-family='"Liberation Sans", "DejaVu Sans", sans-serif' font-size="13.5" font-weight="bold" fill="#222" text-anchor="start" >1</text>
<text x="774.5" y="930.7" font-family='"Liberation Sans", "DejaVu Sans", sans-serif' font-size="13.5" font-weight="bold" fill="#222" text-anchor="start" >5</text>
<text x="783.9" y="940.2" font-family='"Liberation Sans", "DejaVu Sans", sans-serif' font-size="14" font-weight="bold" fill="#222" text-anchor="start" >G</text>
<text x="795.8" y="944.7" font-family='"Liberation Sans", "DejaVu Sans", sans-serif' font-size="13.5" font-weight="bold" fill="#222" text-anchor="start" >5</text>
<text x="768" y="966" font-family='"Liberation Sans", "DejaVu Sans", sans-serif' font-size="13.5" font-weight="bold" fill="#222" text-anchor="start" >5</text>
<text x="776.4" y="975.5" font-family='"Liberation Sans", "DejaVu Sans", sans-serif' font-size="14" font-weight="bold" fill="#222" text-anchor="start" >D</text>
<text x="787.6" y="980" font-family='"Liberation Sans", "DejaVu Sans", sans-serif' font-size="13.5" font-weight="bold" fill="#222" text-anchor="start" >3</text>
<text x="774.5" y="1004" font-family='"Liberation Sans", "DejaVu Sans", sans-serif' font-size="13.5" font-weight="bold" fill="#222" text-anchor="start" >5</text>
<text x="782.9" y="1013.5" font-family='"Liberation Sans", "DejaVu Sans", sans-serif' font-size="14" font-weight="bold" fill="#222" text-anchor="start" >D</text>
<text x="794.0" y="1018" font-family='"Liberation Sans", "DejaVu Sans", sans-serif' font-size="13.5" font-weight="bold" fill="#222" text-anchor="start" >4</text>
<text x="770" y="1149.5" font-family='"Liberation Sans", "DejaVu Sans", sans-serif' font-size="13.5" font-weight="bold" fill="#222" text-anchor="start" >7</text>
<text x="779.2" y="1159.0" font-family='"Liberation Sans", "DejaVu Sans", sans-serif' font-size="14" font-weight="bold" fill="#222" text-anchor="start" >F</text>
<text x="789.4" y="1163.5" font-family='"Liberation Sans", "DejaVu Sans", sans-serif' font-size="13.5" font-weight="bold" fill="#222" text-anchor="start" >0</text>
<text x="773.7" y="1220.9" font-family='"Liberation Sans", "DejaVu Sans", sans-serif' font-size="13.5" font-weight="bold" fill="#222" text-anchor="start" >7</text>
<text x="782.9000000000001" y="1230.4" font-family='"Liberation Sans", "DejaVu Sans", sans-serif' font-size="14" font-weight="bold" fill="#222" text-anchor="start" >F</text>
<text x="792.2" y="1234.9" font-family='"Liberation Sans", "DejaVu Sans", sans-serif' font-size="13.5" font-weight="bold" fill="#222" text-anchor="start" >6</text>
<text x="609.5" y="1255.2" font-family='"Liberation Sans", "DejaVu Sans", sans-serif' font-size="24.6" font-weight="bold" fill="#000" text-anchor="start" textLength="24.2" lengthAdjust="spacingAndGlyphs" >Tb</text>
<text x="635.7" y="1246.9" font-family='"Liberation Sans", "DejaVu Sans", sans-serif' font-size="20" font-weight="bold" fill="#000" text-anchor="start" textLength="24" lengthAdjust="spacingAndGlyphs" >4+</text>
<text x="709.6" y="1255.2" font-family='"Liberation Sans", "DejaVu Sans", sans-serif' font-size="24.6" font-weight="bold" fill="#000" text-anchor="start" textLength="24.2" lengthAdjust="spacingAndGlyphs" >Tb</text>
<text x="735.8000000000001" y="1246.9" font-family='"Liberation Sans", "DejaVu Sans", sans-serif' font-size="20" font-weight="bold" fill="#000" text-anchor="start" textLength="24" lengthAdjust="spacingAndGlyphs" >3+</text>
</g>
<g id="panelD">
<path d="M1007 1303.2 L1012 1303.6 L1020 1305.5 L1032 1308 L1050 1308.8 L1092 1309.6 L1140 1310.3 L1395 1310.8 L1400 1310 L1404 1307 L1404 1316.3 L1007 1316.3 Z" fill="#ff00ff"/>
<rect x="1398.6" y="1307.4" width="6.8" height="6.8" fill="#ffd0ff" stroke="#ff00ff" stroke-width="3.3"/>
<rect x="1403.1" y="1300.2" width="6.8" height="6.8" fill="#ffd0ff" stroke="#ff00ff" stroke-width="3.3"/>
<rect x="1407.6" y="1294.3" width="6.8" height="6.8" fill="#ffd0ff" stroke="#ff00ff" stroke-width="3.3"/>
<rect x="1411.7" y="1277.6" width="6.8" height="6.8" fill="#ffd0ff" stroke="#ff00ff" stroke-width="3.3"/>
<rect x="1416.2" y="1258.3" width="6.8" height="6.8" fill="#ffd0ff" stroke="#ff00ff" stroke-width="3.3"/>
<rect x="1420.7" y="1236.4" width="6.8" height="6.8" fill="#ffd0ff" stroke="#ff00ff" stroke-width="3.3"/>
<rect x="1424.5" y="1207.8" width="6.8" height="6.8" fill="#ffd0ff" stroke="#ff00ff" stroke-width="3.3"/>
<rect x="1429.0" y="1169.4" width="6.8" height="6.8" fill="#ffd0ff" stroke="#ff00ff" stroke-width="3.3"/>
<rect x="1433.5" y="1124.4" width="6.8" height="6.8" fill="#ffd0ff" stroke="#ff00ff" stroke-width="3.3"/>
<rect x="1438.0" y="1103.4" width="6.8" height="6.8" fill="#ffd0ff" stroke="#ff00ff" stroke-width="3.3"/>
<rect x="1442.1" y="1065.5" width="6.8" height="6.8" fill="#ffd0ff" stroke="#ff00ff" stroke-width="3.3"/>
<rect x="1446.6" y="1051.9" width="6.8" height="6.8" fill="#ffd0ff" stroke="#ff00ff" stroke-width="3.3"/>
<rect x="1450.9" y="1012.8" width="6.8" height="6.8" fill="#ffd0ff" stroke="#ff00ff" stroke-width="3.3"/>
<rect x="1455.6" y="984.1" width="6.8" height="6.8" fill="#ffd0ff" stroke="#ff00ff" stroke-width="3.3"/>
<rect x="1459.5" y="954.1" width="6.8" height="6.8" fill="#ffd0ff" stroke="#ff00ff" stroke-width="3.3"/>
<rect x="1464.0" y="936.1" width="6.8" height="6.8" fill="#ffd0ff" stroke="#ff00ff" stroke-width="3.3"/>
<rect x="1468.5" y="935.0" width="6.8" height="6.8" fill="#ffd0ff" stroke="#ff00ff" stroke-width="3.3"/>
<rect x="1473.0" y="921.9" width="6.8" height="6.8" fill="#ffd0ff" stroke="#ff00ff" stroke-width="3.3"/>
<rect x="1476.8" y="898.5" width="6.8" height="6.8" fill="#ffd0ff" stroke="#ff00ff" stroke-width="3.3"/>
<rect x="1480.9" y="877.5" width="6.8" height="6.8" fill="#ffd0ff" stroke="#ff00ff" stroke-width="3.3"/>
<rect x="1485.4" y="895.5" width="6.8" height="6.8" fill="#ffd0ff" stroke="#ff00ff" stroke-width="3.3"/>
<rect x="1490.3" y="891.7" width="6.8" height="6.8" fill="#ffd0ff" stroke="#ff00ff" stroke-width="3.3"/>
<rect x="1494.4" y="873.0" width="6.8" height="6.8" fill="#ffd0ff" stroke="#ff00ff" stroke-width="3.3"/>
<rect x="1498.9" y="866.2" width="6.8" height="6.8" fill="#ffd0ff" stroke="#ff00ff" stroke-width="3.3"/>
<rect x="1503.4" y="880.9" width="6.8" height="6.8" fill="#ffd0ff" stroke="#ff00ff" stroke-width="3.3"/>
<rect x="1507.9" y="871.2" width="6.8" height="6.8" fill="#ffd0ff" stroke="#ff00ff" stroke-width="3.3"/>
<rect x="1512.0" y="842.1" width="6.8" height="6.8" fill="#ffd0ff" stroke="#ff00ff" stroke-width="3.3"/>
<rect x="1516.3" y="842.6" width="6.8" height="6.8" fill="#ffd0ff" stroke="#ff00ff" stroke-width="3.3"/>
<rect x="1521.0" y="855.0" width="6.8" height="6.8" fill="#ffd0ff" stroke="#ff00ff" stroke-width="3.3"/>
<rect x="1524.8" y="867.3" width="6.8" height="6.8" fill="#ffd0ff" stroke="#ff00ff" stroke-width="3.3"/>
<rect x="1529.3" y="847.1" width="6.8" height="6.8" fill="#ffd0ff" stroke="#ff00ff" stroke-width="3.3"/>
<rect x="1533.8" y="849.3" width="6.8" height="6.8" fill="#ffd0ff" stroke="#ff00ff" stroke-width="3.3"/>
<rect x="1537.9" y="844.8" width="6.8" height="6.8" fill="#ffd0ff" stroke="#ff00ff" stroke-width="3.3"/>
<rect x="1542.2" y="832.4" width="6.8" height="6.8" fill="#ffd0ff" stroke="#ff00ff" stroke-width="3.3"/>
<rect x="1546.7" y="844.8" width="6.8" height="6.8" fill="#ffd0ff" stroke="#ff00ff" stroke-width="3.3"/>
<rect x="1550.8" y="832.4" width="6.8" height="6.8" fill="#ffd0ff" stroke="#ff00ff" stroke-width="3.3"/>
<rect x="1555.3" y="833.5" width="6.8" height="6.8" fill="#ffd0ff" stroke="#ff00ff" stroke-width="3.3"/>
<rect x="1559.8" y="822.3" width="6.8" height="6.8" fill="#ffd0ff" stroke="#ff00ff" stroke-width="3.3"/>
<rect x="1563.8" y="841.4" width="6.8" height="6.8" fill="#ffd0ff" stroke="#ff00ff" stroke-width="3.3"/>
<rect x="1568.1" y="815.5" width="6.8" height="6.8" fill="#ffd0ff" stroke="#ff00ff" stroke-width="3.3"/>
<rect x="1572.6" y="849.3" width="6.8" height="6.8" fill="#ffd0ff" stroke="#ff00ff" stroke-width="3.3"/>
<rect x="1576.7" y="830.8" width="6.8" height="6.8" fill="#ffd0ff" stroke="#ff00ff" stroke-width="3.3"/>
<rect x="1581.2" y="835.8" width="6.8" height="6.8" fill="#ffd0ff" stroke="#ff00ff" stroke-width="3.3"/>
<rect x="1585.7" y="841.4" width="6.8" height="6.8" fill="#ffd0ff" stroke="#ff00ff" stroke-width="3.3"/>
<rect x="1590.2" y="806.0" width="6.8" height="6.8" fill="#ffd0ff" stroke="#ff00ff" stroke-width="3.3"/>
<rect x="1594.7" y="825.6" width="6.8" height="6.8" fill="#ffd0ff" stroke="#ff00ff" stroke-width="3.3"/>
<rect x="1598.8" y="826.8" width="6.8" height="6.8" fill="#ffd0ff" stroke="#ff00ff" stroke-width="3.3"/>
<rect x="1603.3" y="816.0" width="6.8" height="6.8" fill="#ffd0ff" stroke="#ff00ff" stroke-width="3.3"/>
<rect x="1607.1" y="840.7" width="6.8" height="6.8" fill="#ffd0ff" stroke="#ff00ff" stroke-width="3.3"/>
<rect x="1611.6" y="841.4" width="6.8" height="6.8" fill="#ffd0ff" stroke="#ff00ff" stroke-width="3.3"/>
<rect x="1616.1" y="816.6" width="6.8" height="6.8" fill="#ffd0ff" stroke="#ff00ff" stroke-width="3.3"/>
<rect x="1620.2" y="835.8" width="6.8" height="6.8" fill="#ffd0ff" stroke="#ff00ff" stroke-width="3.3"/>
<rect x="1624.7" y="825.6" width="6.8" height="6.8" fill="#ffd0ff" stroke="#ff00ff" stroke-width="3.3"/>
<rect x="1629.2" y="834.0" width="6.8" height="6.8" fill="#ffd0ff" stroke="#ff00ff" stroke-width="3.3"/>
<rect x="1633.0" y="825.6" width="6.8" height="6.8" fill="#ffd0ff" stroke="#ff00ff" stroke-width="3.3"/>
<rect x="1637.5" y="826.8" width="6.8" height="6.8" fill="#ffd0ff" stroke="#ff00ff" stroke-width="3.3"/>
<rect x="1642.1" y="829.0" width="6.8" height="6.8" fill="#ffd0ff" stroke="#ff00ff" stroke-width="3.3"/>
<rect x="1646.6" y="840.7" width="6.8" height="6.8" fill="#ffd0ff" stroke="#ff00ff" stroke-width="3.3"/>
<rect x="1651.1" y="804.2" width="6.8" height="6.8" fill="#ffd0ff" stroke="#ff00ff" stroke-width="3.3"/>
<rect x="1655.6" y="802.7" width="6.8" height="6.8" fill="#ffd0ff" stroke="#ff00ff" stroke-width="3.3"/>
<rect x="1659.6" y="842.6" width="6.8" height="6.8" fill="#ffd0ff" stroke="#ff00ff" stroke-width="3.3"/>
<rect x="1663.9" y="833.1" width="6.8" height="6.8" fill="#ffd0ff" stroke="#ff00ff" stroke-width="3.3"/>
<rect x="1668.0" y="814.4" width="6.8" height="6.8" fill="#ffd0ff" stroke="#ff00ff" stroke-width="3.3"/>
<rect x="1672.9" y="825.6" width="6.8" height="6.8" fill="#ffd0ff" stroke="#ff00ff" stroke-width="3.3"/>
<path d="M1007.0 1316.8 L1007.0 739.5 L1690.6 739.5 L1690.6 1316.8" fill="none" stroke="#111" stroke-width="2.2"/>
<line x1="997" x2="1690.6" y1="1316.8" y2="1316.8" stroke="#111" stroke-width="2.4"/>
<line x1="997" x2="1007.0" y1="1316.8" y2="1316.8" stroke="#111" stroke-width="2.4"/>
<text x="989.5" y="1326.0" font-family='"Liberation Sans", "DejaVu Sans", sans-serif' font-size="26" font-weight="bold" fill="#000" text-anchor="end" >0,0</text>
<line x1="1001.6" x2="1007.0" y1="1272.3" y2="1272.3" stroke="#111" stroke-width="2.2"/>
<line x1="997" x2="1007.0" y1="1227.8" y2="1227.8" stroke="#111" stroke-width="2.4"/>
<text x="977.8" y="1240.1" font-family='"Liberation Sans", "DejaVu Sans", sans-serif' font-size="25" font-weight="bold" fill="#000" text-anchor="end" textLength="75.8" lengthAdjust="spacingAndGlyphs" >2,0x10</text>
<text x="978.6" y="1229.1" font-family='"Liberation Sans", "DejaVu Sans", sans-serif' font-size="18" font-weight="bold" fill="#000" text-anchor="start" textLength="11.5" lengthAdjust="spacingAndGlyphs" >4</text>
<line x1="1001.6" x2="1007.0" y1="1183.3" y2="1183.3" stroke="#111" stroke-width="2.2"/>
<line x1="997" x2="1007.0" y1="1138.8" y2="1138.8" stroke="#111" stroke-width="2.4"/>
<text x="977.8" y="1151.1" font-family='"Liberation Sans", "DejaVu Sans", sans-serif' font-size="25" font-weight="bold" fill="#000" text-anchor="end" textLength="75.8" lengthAdjust="spacingAndGlyphs" >4,0x10</text>
<text x="978.6" y="1140.1" font-family='"Liberation Sans", "DejaVu Sans", sans-serif' font-size="18" font-weight="bold" fill="#000" text-anchor="start" textLength="11.5" lengthAdjust="spacingAndGlyphs" >4</text>
<line x1="1001.6" x2="1007.0" y1="1094.3" y2="1094.3" stroke="#111" stroke-width="2.2"/>
<line x1="997" x2="1007.0" y1="1049.8" y2="1049.8" stroke="#111" stroke-width="2.4"/>
<text x="977.8" y="1062.1" font-family='"Liberation Sans", "DejaVu Sans", sans-serif' font-size="25" font-weight="bold" fill="#000" text-anchor="end" textLength="75.8" lengthAdjust="spacingAndGlyphs" >6,0x10</text>
<text x="978.6" y="1051.1" font-family='"Liberation Sans", "DejaVu Sans", sans-serif' font-size="18" font-weight="bold" fill="#000" text-anchor="start" textLength="11.5" lengthAdjust="spacingAndGlyphs" >4</text>
<line x1="1001.6" x2="1007.0" y1="1005.3" y2="1005.3" stroke="#111" stroke-width="2.2"/>
<line x1="997" x2="1007.0" y1="960.8" y2="960.8" stroke="#111" stroke-width="2.4"/>
<text x="977.8" y="973.0999999999999" font-family='"Liberation Sans", "DejaVu Sans", sans-serif' font-size="25" font-weight="bold" fill="#000" text-anchor="end" textLength="75.8" lengthAdjust="spacingAndGlyphs" >8,0x10</text>
<text x="978.6" y="962.0999999999999" font-family='"Liberation Sans", "DejaVu Sans", sans-serif' font-size="18" font-weight="bold" fill="#000" text-anchor="start" textLength="11.5" lengthAdjust="spacingAndGlyphs" >4</text>
<line x1="1001.6" x2="1007.0" y1="916.3" y2="916.3" stroke="#111" stroke-width="2.2"/>
<line x1="997" x2="1007.0" y1="871.8" y2="871.8" stroke="#111" stroke-width="2.4"/>
<text x="977.8" y="884.0999999999999" font-family='"Liberation Sans", "DejaVu Sans", sans-serif' font-size="25" font-weight="bold" fill="#000" text-anchor="end" textLength="75.8" lengthAdjust="spacingAndGlyphs" >1,0x10</text>
<text x="978.6" y="873.0999999999999" font-family='"Liberation Sans", "DejaVu Sans", sans-serif' font-size="18" font-weight="bold" fill="#000" text-anchor="start" textLength="11.5" lengthAdjust="spacingAndGlyphs" >5</text>
<line x1="1001.6" x2="1007.0" y1="827.3" y2="827.3" stroke="#111" stroke-width="2.2"/>
<line x1="997" x2="1007.0" y1="782.8" y2="782.8" stroke="#111" stroke-width="2.4"/>
<text x="977.8" y="795.0999999999999" font-family='"Liberation Sans", "DejaVu Sans", sans-serif' font-size="25" font-weight="bold" fill="#000" text-anchor="end" textLength="75.8" lengthAdjust="spacingAndGlyphs" >1,2x10</text>
<text x="978.6" y="784.0999999999999" font-family='"Liberation Sans", "DejaVu Sans", sans-serif' font-size="18" font-weight="bold" fill="#000" text-anchor="start" textLength="11.5" lengthAdjust="spacingAndGlyphs" >5</text>
<line x1="1007.0" x2="1007.0" y1="1316.8" y2="1327.3" stroke="#111" stroke-width="2.4"/>
<text x="1007.0" y="1360.4" font-family='"Liberation Sans", "DejaVu Sans", sans-serif' font-size="28" font-weight="bold" fill="#000" text-anchor="middle" >0,0</text>
<line x1="1049.7" x2="1049.7" y1="1316.8" y2="1321.3" stroke="#111" stroke-width="2.2"/>
<line x1="1092.5" x2="1092.5" y1="1316.8" y2="1327.3" stroke="#111" stroke-width="2.4"/>
<text x="1092.46" y="1360.4" font-family='"Liberation Sans", "DejaVu Sans", sans-serif' font-size="28" font-weight="bold" fill="#000" text-anchor="middle" >0,2</text>
<line x1="1135.2" x2="1135.2" y1="1316.8" y2="1321.3" stroke="#111" stroke-width="2.2"/>
<line x1="1177.9" x2="1177.9" y1="1316.8" y2="1327.3" stroke="#111" stroke-width="2.4"/>
<text x="1177.92" y="1360.4" font-family='"Liberation Sans", "DejaVu Sans", sans-serif' font-size="28" font-weight="bold" fill="#000" text-anchor="middle" >0,4</text>
<line x1="1220.7" x2="1220.7" y1="1316.8" y2="1321.3" stroke="#111" stroke-width="2.2"/>
<line x1="1263.4" x2="1263.4" y1="1316.8" y2="1327.3" stroke="#111" stroke-width="2.4"/>
<text x="1263.38" y="1360.4" font-family='"Liberation Sans", "DejaVu Sans", sans-serif' font-size="28" font-weight="bold" fill="#000" text-anchor="middle" >0,6</text>
<line x1="1306.1" x2="1306.1" y1="1316.8" y2="1321.3" stroke="#111" stroke-width="2.2"/>
<line x1="1348.8" x2="1348.8" y1="1316.8" y2="1327.3" stroke="#111" stroke-width="2.4"/>
<text x="1348.8400000000001" y="1360.4" font-family='"Liberation Sans", "DejaVu Sans", sans-serif' font-size="28" font-weight="bold" fill="#000" text-anchor="middle" >0,8</text>
<line x1="1391.6" x2="1391.6" y1="1316.8" y2="1321.3" stroke="#111" stroke-width="2.2"/>
<line x1="1434.3" x2="1434.3" y1="1316.8" y2="1327.3" stroke="#111" stroke-width="2.4"/>
<text x="1434.3" y="1360.4" font-family='"Liberation Sans", "DejaVu Sans", sans-serif' font-size="28" font-weight="bold" fill="#000" text-anchor="middle" >1,0</text>
<line x1="1477.0" x2="1477.0" y1="1316.8" y2="1321.3" stroke="#111" stroke-width="2.2"/>
<line x1="1519.8" x2="1519.8" y1="1316.8" y2="1327.3" stroke="#111" stroke-width="2.4"/>
<text x="1519.7600000000002" y="1360.4" font-family='"Liberation Sans", "DejaVu Sans", sans-serif' font-size="28" font-weight="bold" fill="#000" text-anchor="middle" >1,2</text>
<line x1="1562.5" x2="1562.5" y1="1316.8" y2="1321.3" stroke="#111" stroke-width="2.2"/>
<line x1="1605.2" x2="1605.2" y1="1316.8" y2="1327.3" stroke="#111" stroke-width="2.4"/>
<text x="1605.22" y="1360.4" font-family='"Liberation Sans", "DejaVu Sans", sans-serif' font-size="28" font-weight="bold" fill="#000" text-anchor="middle" >1,4</text>
<line x1="1648.0" x2="1648.0" y1="1316.8" y2="1321.3" stroke="#111" stroke-width="2.2"/>
<line x1="1690.7" x2="1690.7" y1="1316.8" y2="1327.3" stroke="#111" stroke-width="2.4"/>
<text x="1690.68" y="1360.4" font-family='"Liberation Sans", "DejaVu Sans", sans-serif' font-size="28" font-weight="bold" fill="#000" text-anchor="middle" >1,6</text>
<text x="1260.5" y="1402.4" font-family='"Liberation Sans", "DejaVu Sans", sans-serif' font-size="34" font-weight="bold" fill="#000" text-anchor="start" textLength="177" lengthAdjust="spacingAndGlyphs" >Depth (nm)</text>
<text transform="translate(886 1204.5) rotate(-90)" font-family='"Liberation Sans", "DejaVu Sans", sans-serif' font-size="31" font-weight="bold" fill="#000" textLength="342.5" lengthAdjust="spacingAndGlyphs" >Counts per second</text>
<rect x="1044.4" y="765.3" width="162.6" height="57.4" fill="#fff" stroke="#555" stroke-width="1.6"/>
<rect x="1088.9" y="795.4" width="6.8" height="6.8" fill="#ffd0ff" stroke="#ff00ff" stroke-width="3.3"/>
<text x="1143.5" y="812" font-family='"Liberation Sans", "DejaVu Sans", sans-serif' font-size="39" font-weight="bold" fill="#000" text-anchor="start" textLength="42" lengthAdjust="spacingAndGlyphs" >Na</text>
<text x="1187" y="794.5" font-family='"Liberation Sans", "DejaVu Sans", sans-serif' font-size="23" font-weight="bold" fill="#000" text-anchor="start" textLength="13.5" lengthAdjust="spacingAndGlyphs" >+</text>
</g>
</svg></body></html>
